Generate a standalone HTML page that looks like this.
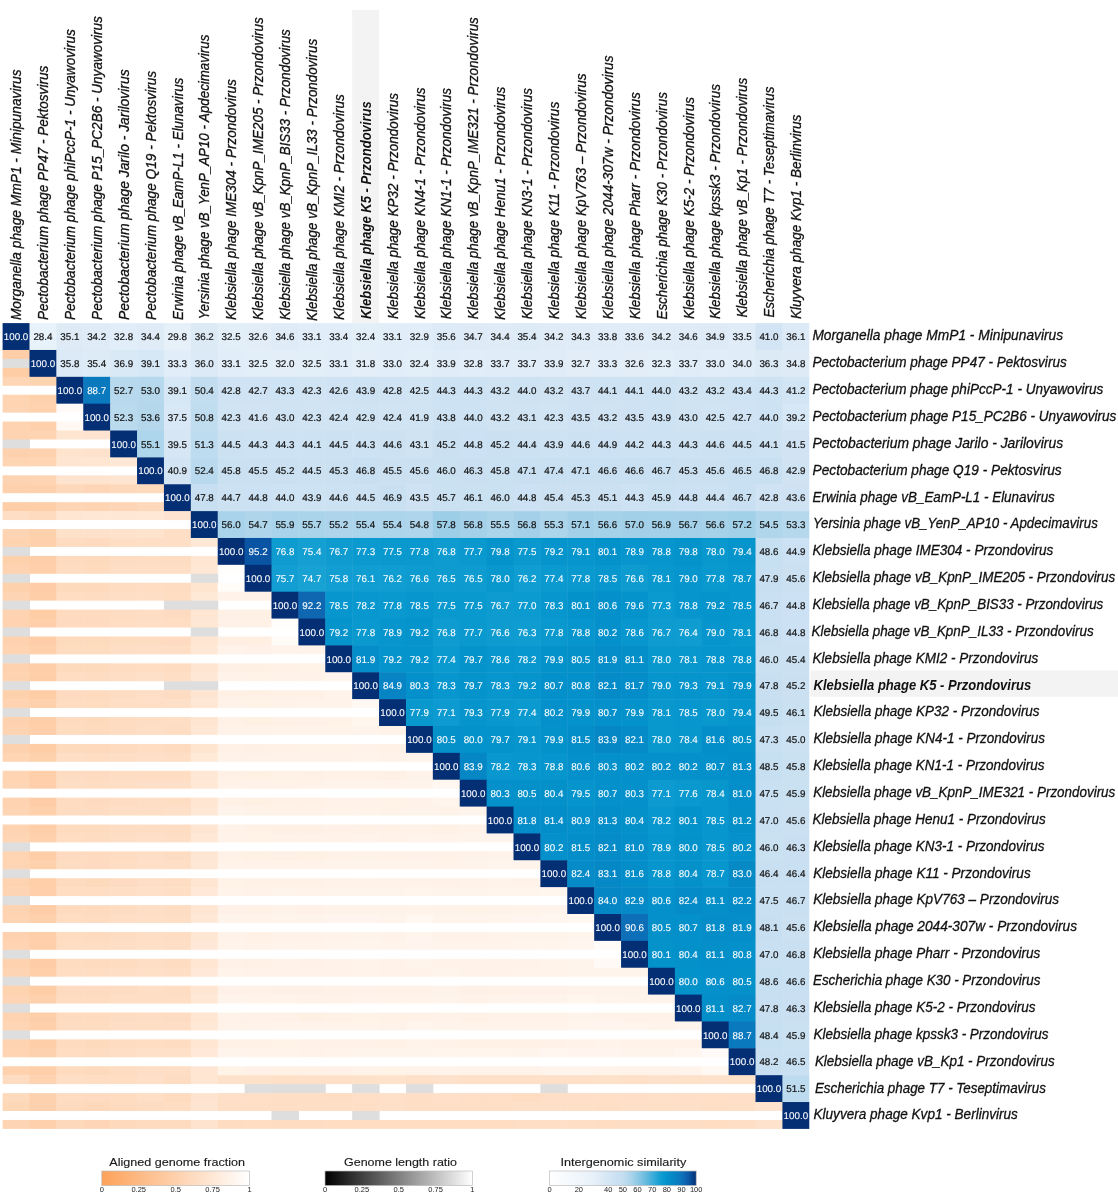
<!DOCTYPE html>
<html><head><meta charset="utf-8"><title>VIRIDIC heatmap</title>
<style>html,body{margin:0;padding:0;background:#fff}body{width:1118px;height:1203px;overflow:hidden}svg{display:block;font-family:"Liberation Sans",sans-serif}.v{font-size:9.8px;text-rendering:geometricPrecision;text-anchor:middle;fill:#141414;stroke:#141414;stroke-width:0.22px}.w{fill:#fff;stroke:#fff;stroke-width:0.1px}.l{font-size:14.2px;font-style:italic;fill:#111;stroke:#111;stroke-width:0.3px}.b{font-weight:bold;stroke-width:0}.t{font-size:11.8px;text-anchor:middle;fill:#1a1a1a;stroke:#1a1a1a;stroke-width:0.15px}.k{font-size:7.5px;text-anchor:middle;fill:#222}</style></head><body>
<svg width="1118" height="1203" viewBox="0 0 1118 1203">
<rect width="1118" height="1203" fill="#fff"/>
<rect x="352.2" y="10" width="26.9" height="313" fill="#f3f3f3"/>
<rect x="810.4" y="670.4" width="308" height="26.4" fill="#f3f3f3"/>
<g>
<rect x="2.6" y="323.1" width="27.39" height="27.36" fill="#042f74"/>
<rect x="29.49" y="323.1" width="27.39" height="27.36" fill="#e8f2fa"/>
<rect x="56.38" y="323.1" width="27.39" height="27.36" fill="#deebf7"/>
<rect x="83.27" y="323.1" width="27.39" height="27.36" fill="#dfecf7"/>
<rect x="110.16" y="323.1" width="27.39" height="27.36" fill="#e1edf8"/>
<rect x="137.05" y="323.1" width="27.39" height="27.36" fill="#dfecf7"/>
<rect x="163.94" y="323.1" width="27.39" height="27.36" fill="#e6f0f9"/>
<rect x="190.83" y="323.1" width="27.39" height="27.36" fill="#dceaf6"/>
<rect x="217.72" y="323.1" width="27.39" height="27.36" fill="#e2eef8"/>
<rect x="244.61" y="323.1" width="27.39" height="27.36" fill="#e2edf8"/>
<rect x="271.5" y="323.1" width="27.39" height="27.36" fill="#dfebf7"/>
<rect x="298.39" y="323.1" width="27.39" height="27.36" fill="#e1edf8"/>
<rect x="325.28" y="323.1" width="27.39" height="27.36" fill="#e1edf8"/>
<rect x="352.17" y="323.1" width="27.39" height="27.36" fill="#e2eef8"/>
<rect x="379.06" y="323.1" width="27.39" height="27.36" fill="#e1edf8"/>
<rect x="405.95" y="323.1" width="27.39" height="27.36" fill="#e1edf8"/>
<rect x="432.84" y="323.1" width="27.39" height="27.36" fill="#ddeaf7"/>
<rect x="459.73" y="323.1" width="27.39" height="27.36" fill="#deebf7"/>
<rect x="486.62" y="323.1" width="27.39" height="27.36" fill="#dfecf7"/>
<rect x="513.51" y="323.1" width="27.39" height="27.36" fill="#ddebf7"/>
<rect x="540.4" y="323.1" width="27.39" height="27.36" fill="#dfecf7"/>
<rect x="567.29" y="323.1" width="27.39" height="27.36" fill="#dfecf7"/>
<rect x="594.18" y="323.1" width="27.39" height="27.36" fill="#e0ecf8"/>
<rect x="621.07" y="323.1" width="27.39" height="27.36" fill="#e0ecf8"/>
<rect x="647.96" y="323.1" width="27.39" height="27.36" fill="#dfecf7"/>
<rect x="674.85" y="323.1" width="27.39" height="27.36" fill="#dfebf7"/>
<rect x="701.74" y="323.1" width="27.39" height="27.36" fill="#deebf7"/>
<rect x="728.63" y="323.1" width="27.39" height="27.36" fill="#e0ecf8"/>
<rect x="755.52" y="323.1" width="27.39" height="27.36" fill="#d3e5f4"/>
<rect x="782.41" y="323.1" width="26.89" height="27.36" fill="#dceaf7"/>
<rect x="2.6" y="349.96" width="27.39" height="9.45" fill="#fecea8"/>
<rect x="2.6" y="358.91" width="27.39" height="9.45" fill="#dedede"/>
<rect x="2.6" y="367.87" width="27.39" height="9.45" fill="#fecca5"/>
<rect x="29.49" y="349.96" width="27.39" height="27.36" fill="#042f74"/>
<rect x="56.38" y="349.96" width="27.39" height="27.36" fill="#dceaf7"/>
<rect x="83.27" y="349.96" width="27.39" height="27.36" fill="#ddebf7"/>
<rect x="110.16" y="349.96" width="27.39" height="27.36" fill="#dae9f6"/>
<rect x="137.05" y="349.96" width="27.39" height="27.36" fill="#d6e7f5"/>
<rect x="163.94" y="349.96" width="27.39" height="27.36" fill="#e1edf8"/>
<rect x="190.83" y="349.96" width="27.39" height="27.36" fill="#dceaf7"/>
<rect x="217.72" y="349.96" width="27.39" height="27.36" fill="#e1edf8"/>
<rect x="244.61" y="349.96" width="27.39" height="27.36" fill="#e2eef8"/>
<rect x="271.5" y="349.96" width="27.39" height="27.36" fill="#e3eef8"/>
<rect x="298.39" y="349.96" width="27.39" height="27.36" fill="#e2eef8"/>
<rect x="325.28" y="349.96" width="27.39" height="27.36" fill="#e1edf8"/>
<rect x="352.17" y="349.96" width="27.39" height="27.36" fill="#e3eef8"/>
<rect x="379.06" y="349.96" width="27.39" height="27.36" fill="#e1edf8"/>
<rect x="405.95" y="349.96" width="27.39" height="27.36" fill="#e2eef8"/>
<rect x="432.84" y="349.96" width="27.39" height="27.36" fill="#e0ecf7"/>
<rect x="459.73" y="349.96" width="27.39" height="27.36" fill="#e1edf8"/>
<rect x="486.62" y="349.96" width="27.39" height="27.36" fill="#e0ecf8"/>
<rect x="513.51" y="349.96" width="27.39" height="27.36" fill="#e0ecf8"/>
<rect x="540.4" y="349.96" width="27.39" height="27.36" fill="#e0ecf7"/>
<rect x="567.29" y="349.96" width="27.39" height="27.36" fill="#e2edf8"/>
<rect x="594.18" y="349.96" width="27.39" height="27.36" fill="#e1edf8"/>
<rect x="621.07" y="349.96" width="27.39" height="27.36" fill="#e2edf8"/>
<rect x="647.96" y="349.96" width="27.39" height="27.36" fill="#e2eef8"/>
<rect x="674.85" y="349.96" width="27.39" height="27.36" fill="#e0ecf8"/>
<rect x="701.74" y="349.96" width="27.39" height="27.36" fill="#e1edf8"/>
<rect x="728.63" y="349.96" width="27.39" height="27.36" fill="#e0ecf7"/>
<rect x="755.52" y="349.96" width="27.39" height="27.36" fill="#dceaf6"/>
<rect x="782.41" y="349.96" width="26.89" height="27.36" fill="#deebf7"/>
<rect x="2.6" y="376.82" width="27.39" height="8.95" fill="#fed6b5"/>
<rect x="2.6" y="394.73" width="27.39" height="9.45" fill="#fed4b2"/>
<rect x="29.49" y="376.82" width="27.39" height="8.95" fill="#fed3b0"/>
<rect x="29.49" y="394.73" width="27.39" height="9.45" fill="#fed1ad"/>
<rect x="56.38" y="376.82" width="27.39" height="27.36" fill="#042f74"/>
<rect x="83.27" y="376.82" width="27.39" height="27.36" fill="#0a79be"/>
<rect x="110.16" y="376.82" width="27.39" height="27.36" fill="#b8d9ed"/>
<rect x="137.05" y="376.82" width="27.39" height="27.36" fill="#b6d8ed"/>
<rect x="163.94" y="376.82" width="27.39" height="27.36" fill="#d6e7f5"/>
<rect x="190.83" y="376.82" width="27.39" height="27.36" fill="#c2ddf0"/>
<rect x="217.72" y="376.82" width="27.39" height="27.36" fill="#cfe3f4"/>
<rect x="244.61" y="376.82" width="27.39" height="27.36" fill="#cfe3f4"/>
<rect x="271.5" y="376.82" width="27.39" height="27.36" fill="#cee3f3"/>
<rect x="298.39" y="376.82" width="27.39" height="27.36" fill="#d0e4f4"/>
<rect x="325.28" y="376.82" width="27.39" height="27.36" fill="#d0e3f4"/>
<rect x="352.17" y="376.82" width="27.39" height="27.36" fill="#cde2f3"/>
<rect x="379.06" y="376.82" width="27.39" height="27.36" fill="#cfe3f4"/>
<rect x="405.95" y="376.82" width="27.39" height="27.36" fill="#d0e4f4"/>
<rect x="432.84" y="376.82" width="27.39" height="27.36" fill="#cde2f3"/>
<rect x="459.73" y="376.82" width="27.39" height="27.36" fill="#cde2f3"/>
<rect x="486.62" y="376.82" width="27.39" height="27.36" fill="#cfe3f3"/>
<rect x="513.51" y="376.82" width="27.39" height="27.36" fill="#cde2f3"/>
<rect x="540.4" y="376.82" width="27.39" height="27.36" fill="#cfe3f3"/>
<rect x="567.29" y="376.82" width="27.39" height="27.36" fill="#cee2f3"/>
<rect x="594.18" y="376.82" width="27.39" height="27.36" fill="#cde2f3"/>
<rect x="621.07" y="376.82" width="27.39" height="27.36" fill="#cde2f3"/>
<rect x="647.96" y="376.82" width="27.39" height="27.36" fill="#cde2f3"/>
<rect x="674.85" y="376.82" width="27.39" height="27.36" fill="#cfe3f3"/>
<rect x="701.74" y="376.82" width="27.39" height="27.36" fill="#cfe3f3"/>
<rect x="728.63" y="376.82" width="27.39" height="27.36" fill="#cee3f3"/>
<rect x="755.52" y="376.82" width="27.39" height="27.36" fill="#cde2f3"/>
<rect x="782.41" y="376.82" width="26.89" height="27.36" fill="#d2e5f4"/>
<rect x="2.6" y="403.68" width="27.39" height="8.95" fill="#fed5b4"/>
<rect x="2.6" y="421.59" width="27.39" height="9.45" fill="#fed3b0"/>
<rect x="29.49" y="403.68" width="27.39" height="8.95" fill="#fed2af"/>
<rect x="29.49" y="421.59" width="27.39" height="9.45" fill="#fed0ac"/>
<rect x="56.38" y="403.68" width="27.39" height="8.95" fill="#fffaf7"/>
<rect x="56.38" y="421.59" width="27.39" height="9.45" fill="#fff8f3"/>
<rect x="83.27" y="403.68" width="27.39" height="27.36" fill="#042f74"/>
<rect x="110.16" y="403.68" width="27.39" height="27.36" fill="#badaee"/>
<rect x="137.05" y="403.68" width="27.39" height="27.36" fill="#b4d7ec"/>
<rect x="163.94" y="403.68" width="27.39" height="27.36" fill="#d9e8f6"/>
<rect x="190.83" y="403.68" width="27.39" height="27.36" fill="#c0ddef"/>
<rect x="217.72" y="403.68" width="27.39" height="27.36" fill="#d0e4f4"/>
<rect x="244.61" y="403.68" width="27.39" height="27.36" fill="#d2e4f4"/>
<rect x="271.5" y="403.68" width="27.39" height="27.36" fill="#cfe3f3"/>
<rect x="298.39" y="403.68" width="27.39" height="27.36" fill="#d0e4f4"/>
<rect x="325.28" y="403.68" width="27.39" height="27.36" fill="#d0e4f4"/>
<rect x="352.17" y="403.68" width="27.39" height="27.36" fill="#cfe3f3"/>
<rect x="379.06" y="403.68" width="27.39" height="27.36" fill="#d0e4f4"/>
<rect x="405.95" y="403.68" width="27.39" height="27.36" fill="#d1e4f4"/>
<rect x="432.84" y="403.68" width="27.39" height="27.36" fill="#cde2f3"/>
<rect x="459.73" y="403.68" width="27.39" height="27.36" fill="#cde2f3"/>
<rect x="486.62" y="403.68" width="27.39" height="27.36" fill="#cfe3f3"/>
<rect x="513.51" y="403.68" width="27.39" height="27.36" fill="#cfe3f3"/>
<rect x="540.4" y="403.68" width="27.39" height="27.36" fill="#d0e4f4"/>
<rect x="567.29" y="403.68" width="27.39" height="27.36" fill="#cee2f3"/>
<rect x="594.18" y="403.68" width="27.39" height="27.36" fill="#cfe3f3"/>
<rect x="621.07" y="403.68" width="27.39" height="27.36" fill="#cee2f3"/>
<rect x="647.96" y="403.68" width="27.39" height="27.36" fill="#cde2f3"/>
<rect x="674.85" y="403.68" width="27.39" height="27.36" fill="#cfe3f3"/>
<rect x="701.74" y="403.68" width="27.39" height="27.36" fill="#d0e4f4"/>
<rect x="728.63" y="403.68" width="27.39" height="27.36" fill="#cfe3f4"/>
<rect x="755.52" y="403.68" width="27.39" height="27.36" fill="#cde2f3"/>
<rect x="782.41" y="403.68" width="26.89" height="27.36" fill="#d6e7f5"/>
<rect x="2.6" y="430.54" width="27.39" height="9.45" fill="#fed3b1"/>
<rect x="2.6" y="439.49" width="27.39" height="9.45" fill="#dedede"/>
<rect x="2.6" y="448.45" width="27.39" height="9.45" fill="#fed1ae"/>
<rect x="29.49" y="430.54" width="27.39" height="8.95" fill="#fed4b2"/>
<rect x="29.49" y="448.45" width="27.39" height="9.45" fill="#fed2af"/>
<rect x="56.38" y="430.54" width="27.39" height="8.95" fill="#fee5d0"/>
<rect x="56.38" y="448.45" width="27.39" height="9.45" fill="#fee3cd"/>
<rect x="83.27" y="430.54" width="27.39" height="8.95" fill="#fee4d0"/>
<rect x="83.27" y="448.45" width="27.39" height="9.45" fill="#fee2cc"/>
<rect x="110.16" y="430.54" width="27.39" height="27.36" fill="#042f74"/>
<rect x="137.05" y="430.54" width="27.39" height="27.36" fill="#add5eb"/>
<rect x="163.94" y="430.54" width="27.39" height="27.36" fill="#d6e6f5"/>
<rect x="190.83" y="430.54" width="27.39" height="27.36" fill="#bedcef"/>
<rect x="217.72" y="430.54" width="27.39" height="27.36" fill="#cce2f3"/>
<rect x="244.61" y="430.54" width="27.39" height="27.36" fill="#cde2f3"/>
<rect x="271.5" y="430.54" width="27.39" height="27.36" fill="#cde2f3"/>
<rect x="298.39" y="430.54" width="27.39" height="27.36" fill="#cde2f3"/>
<rect x="325.28" y="430.54" width="27.39" height="27.36" fill="#cce2f3"/>
<rect x="352.17" y="430.54" width="27.39" height="27.36" fill="#cde2f3"/>
<rect x="379.06" y="430.54" width="27.39" height="27.36" fill="#cce2f3"/>
<rect x="405.95" y="430.54" width="27.39" height="27.36" fill="#cfe3f3"/>
<rect x="432.84" y="430.54" width="27.39" height="27.36" fill="#cbe1f2"/>
<rect x="459.73" y="430.54" width="27.39" height="27.36" fill="#cce1f3"/>
<rect x="486.62" y="430.54" width="27.39" height="27.36" fill="#cbe1f2"/>
<rect x="513.51" y="430.54" width="27.39" height="27.36" fill="#cce2f3"/>
<rect x="540.4" y="430.54" width="27.39" height="27.36" fill="#cde2f3"/>
<rect x="567.29" y="430.54" width="27.39" height="27.36" fill="#cce2f3"/>
<rect x="594.18" y="430.54" width="27.39" height="27.36" fill="#cce1f3"/>
<rect x="621.07" y="430.54" width="27.39" height="27.36" fill="#cde2f3"/>
<rect x="647.96" y="430.54" width="27.39" height="27.36" fill="#cde2f3"/>
<rect x="674.85" y="430.54" width="27.39" height="27.36" fill="#cde2f3"/>
<rect x="701.74" y="430.54" width="27.39" height="27.36" fill="#cce2f3"/>
<rect x="728.63" y="430.54" width="27.39" height="27.36" fill="#cce2f3"/>
<rect x="755.52" y="430.54" width="27.39" height="27.36" fill="#cde2f3"/>
<rect x="782.41" y="430.54" width="26.89" height="27.36" fill="#d2e4f4"/>
<rect x="2.6" y="457.4" width="27.39" height="8.95" fill="#fed5b4"/>
<rect x="2.6" y="475.31" width="27.39" height="9.45" fill="#fed3b1"/>
<rect x="29.49" y="457.4" width="27.39" height="8.95" fill="#fed6b6"/>
<rect x="29.49" y="475.31" width="27.39" height="9.45" fill="#fed4b3"/>
<rect x="56.38" y="457.4" width="27.39" height="8.95" fill="#fee5d1"/>
<rect x="56.38" y="475.31" width="27.39" height="9.45" fill="#fee3ce"/>
<rect x="83.27" y="457.4" width="27.39" height="8.95" fill="#fee6d2"/>
<rect x="83.27" y="475.31" width="27.39" height="9.45" fill="#fee4ce"/>
<rect x="110.16" y="457.4" width="27.39" height="8.95" fill="#fee7d4"/>
<rect x="110.16" y="475.31" width="27.39" height="9.45" fill="#fee5d1"/>
<rect x="137.05" y="457.4" width="27.39" height="27.36" fill="#042f74"/>
<rect x="163.94" y="457.4" width="27.39" height="27.36" fill="#d3e5f4"/>
<rect x="190.83" y="457.4" width="27.39" height="27.36" fill="#b9daee"/>
<rect x="217.72" y="457.4" width="27.39" height="27.36" fill="#cae1f2"/>
<rect x="244.61" y="457.4" width="27.39" height="27.36" fill="#cbe1f2"/>
<rect x="271.5" y="457.4" width="27.39" height="27.36" fill="#cbe1f2"/>
<rect x="298.39" y="457.4" width="27.39" height="27.36" fill="#cce2f3"/>
<rect x="325.28" y="457.4" width="27.39" height="27.36" fill="#cbe1f2"/>
<rect x="352.17" y="457.4" width="27.39" height="27.36" fill="#c9e0f2"/>
<rect x="379.06" y="457.4" width="27.39" height="27.36" fill="#cbe1f2"/>
<rect x="405.95" y="457.4" width="27.39" height="27.36" fill="#cbe1f2"/>
<rect x="432.84" y="457.4" width="27.39" height="27.36" fill="#cae1f2"/>
<rect x="459.73" y="457.4" width="27.39" height="27.36" fill="#cae0f2"/>
<rect x="486.62" y="457.4" width="27.39" height="27.36" fill="#cae1f2"/>
<rect x="513.51" y="457.4" width="27.39" height="27.36" fill="#c8e0f1"/>
<rect x="540.4" y="457.4" width="27.39" height="27.36" fill="#c8e0f1"/>
<rect x="567.29" y="457.4" width="27.39" height="27.36" fill="#c8e0f1"/>
<rect x="594.18" y="457.4" width="27.39" height="27.36" fill="#c9e0f2"/>
<rect x="621.07" y="457.4" width="27.39" height="27.36" fill="#c9e0f2"/>
<rect x="647.96" y="457.4" width="27.39" height="27.36" fill="#c9e0f2"/>
<rect x="674.85" y="457.4" width="27.39" height="27.36" fill="#cbe1f2"/>
<rect x="701.74" y="457.4" width="27.39" height="27.36" fill="#cbe1f2"/>
<rect x="728.63" y="457.4" width="27.39" height="27.36" fill="#c9e0f2"/>
<rect x="755.52" y="457.4" width="27.39" height="27.36" fill="#c9e0f2"/>
<rect x="782.41" y="457.4" width="26.89" height="27.36" fill="#cfe3f3"/>
<rect x="2.6" y="484.26" width="27.39" height="8.95" fill="#fed0ab"/>
<rect x="2.6" y="502.17" width="27.39" height="9.45" fill="#fecea8"/>
<rect x="29.49" y="484.26" width="27.39" height="8.95" fill="#fed0ab"/>
<rect x="29.49" y="502.17" width="27.39" height="9.45" fill="#fecea8"/>
<rect x="56.38" y="484.26" width="27.39" height="8.95" fill="#fed8ba"/>
<rect x="56.38" y="502.17" width="27.39" height="9.45" fill="#fed6b6"/>
<rect x="83.27" y="484.26" width="27.39" height="8.95" fill="#fed6b7"/>
<rect x="83.27" y="502.17" width="27.39" height="9.45" fill="#fed4b3"/>
<rect x="110.16" y="484.26" width="27.39" height="8.95" fill="#fed8ba"/>
<rect x="110.16" y="502.17" width="27.39" height="9.45" fill="#fed6b7"/>
<rect x="137.05" y="484.26" width="27.39" height="8.95" fill="#fedabd"/>
<rect x="137.05" y="502.17" width="27.39" height="9.45" fill="#fed8ba"/>
<rect x="163.94" y="484.26" width="27.39" height="27.36" fill="#042f74"/>
<rect x="190.83" y="484.26" width="27.39" height="27.36" fill="#c7dff1"/>
<rect x="217.72" y="484.26" width="27.39" height="27.36" fill="#cce2f3"/>
<rect x="244.61" y="484.26" width="27.39" height="27.36" fill="#cce1f3"/>
<rect x="271.5" y="484.26" width="27.39" height="27.36" fill="#cde2f3"/>
<rect x="298.39" y="484.26" width="27.39" height="27.36" fill="#cde2f3"/>
<rect x="325.28" y="484.26" width="27.39" height="27.36" fill="#cce2f3"/>
<rect x="352.17" y="484.26" width="27.39" height="27.36" fill="#cce2f3"/>
<rect x="379.06" y="484.26" width="27.39" height="27.36" fill="#c9e0f2"/>
<rect x="405.95" y="484.26" width="27.39" height="27.36" fill="#cee2f3"/>
<rect x="432.84" y="484.26" width="27.39" height="27.36" fill="#cae1f2"/>
<rect x="459.73" y="484.26" width="27.39" height="27.36" fill="#cae1f2"/>
<rect x="486.62" y="484.26" width="27.39" height="27.36" fill="#cae1f2"/>
<rect x="513.51" y="484.26" width="27.39" height="27.36" fill="#cce1f3"/>
<rect x="540.4" y="484.26" width="27.39" height="27.36" fill="#cbe1f2"/>
<rect x="567.29" y="484.26" width="27.39" height="27.36" fill="#cbe1f2"/>
<rect x="594.18" y="484.26" width="27.39" height="27.36" fill="#cbe1f2"/>
<rect x="621.07" y="484.26" width="27.39" height="27.36" fill="#cde2f3"/>
<rect x="647.96" y="484.26" width="27.39" height="27.36" fill="#cae1f2"/>
<rect x="674.85" y="484.26" width="27.39" height="27.36" fill="#cce1f3"/>
<rect x="701.74" y="484.26" width="27.39" height="27.36" fill="#cce2f3"/>
<rect x="728.63" y="484.26" width="27.39" height="27.36" fill="#c9e0f2"/>
<rect x="755.52" y="484.26" width="27.39" height="27.36" fill="#cfe3f4"/>
<rect x="782.41" y="484.26" width="26.89" height="27.36" fill="#cee2f3"/>
<rect x="2.6" y="511.12" width="27.39" height="8.95" fill="#fedfc6"/>
<rect x="2.6" y="529.03" width="27.39" height="9.45" fill="#fed5b4"/>
<rect x="29.49" y="511.12" width="27.39" height="8.95" fill="#fedbbf"/>
<rect x="29.49" y="529.03" width="27.39" height="9.45" fill="#fed1ad"/>
<rect x="56.38" y="511.12" width="27.39" height="8.95" fill="#fee6d3"/>
<rect x="56.38" y="529.03" width="27.39" height="9.45" fill="#fee1c9"/>
<rect x="83.27" y="511.12" width="27.39" height="8.95" fill="#fee7d4"/>
<rect x="83.27" y="529.03" width="27.39" height="9.45" fill="#fee1ca"/>
<rect x="110.16" y="511.12" width="27.39" height="8.95" fill="#fee7d5"/>
<rect x="110.16" y="529.03" width="27.39" height="9.45" fill="#fee2cb"/>
<rect x="137.05" y="511.12" width="27.39" height="8.95" fill="#ffe8d6"/>
<rect x="137.05" y="529.03" width="27.39" height="9.45" fill="#fee3cd"/>
<rect x="163.94" y="511.12" width="27.39" height="8.95" fill="#fee4d0"/>
<rect x="163.94" y="529.03" width="27.39" height="9.45" fill="#fedfc6"/>
<rect x="190.83" y="511.12" width="27.39" height="27.36" fill="#042f74"/>
<rect x="217.72" y="511.12" width="27.39" height="27.36" fill="#a9d3ea"/>
<rect x="244.61" y="511.12" width="27.39" height="27.36" fill="#afd5eb"/>
<rect x="271.5" y="511.12" width="27.39" height="27.36" fill="#a9d3ea"/>
<rect x="298.39" y="511.12" width="27.39" height="27.36" fill="#aad4ea"/>
<rect x="325.28" y="511.12" width="27.39" height="27.36" fill="#add4eb"/>
<rect x="352.17" y="511.12" width="27.39" height="27.36" fill="#acd4eb"/>
<rect x="379.06" y="511.12" width="27.39" height="27.36" fill="#acd4eb"/>
<rect x="405.95" y="511.12" width="27.39" height="27.36" fill="#aed5eb"/>
<rect x="432.84" y="511.12" width="27.39" height="27.36" fill="#9dcee8"/>
<rect x="459.73" y="511.12" width="27.39" height="27.36" fill="#a4d1e9"/>
<rect x="486.62" y="511.12" width="27.39" height="27.36" fill="#abd4ea"/>
<rect x="513.51" y="511.12" width="27.39" height="27.36" fill="#a4d1e9"/>
<rect x="540.4" y="511.12" width="27.39" height="27.36" fill="#acd4eb"/>
<rect x="567.29" y="511.12" width="27.39" height="27.36" fill="#a2d0e9"/>
<rect x="594.18" y="511.12" width="27.39" height="27.36" fill="#a5d1e9"/>
<rect x="621.07" y="511.12" width="27.39" height="27.36" fill="#a2d0e9"/>
<rect x="647.96" y="511.12" width="27.39" height="27.36" fill="#a3d1e9"/>
<rect x="674.85" y="511.12" width="27.39" height="27.36" fill="#a4d1e9"/>
<rect x="701.74" y="511.12" width="27.39" height="27.36" fill="#a5d1e9"/>
<rect x="728.63" y="511.12" width="27.39" height="27.36" fill="#a1d0e9"/>
<rect x="755.52" y="511.12" width="27.39" height="27.36" fill="#b0d6ec"/>
<rect x="782.41" y="511.12" width="26.89" height="27.36" fill="#b5d8ed"/>
<rect x="2.6" y="537.98" width="27.39" height="9.45" fill="#fed3b0"/>
<rect x="2.6" y="546.93" width="27.39" height="9.45" fill="#dedede"/>
<rect x="2.6" y="555.89" width="27.39" height="9.45" fill="#fed1ad"/>
<rect x="29.49" y="537.98" width="27.39" height="8.95" fill="#fed0ab"/>
<rect x="29.49" y="555.89" width="27.39" height="9.45" fill="#fecea8"/>
<rect x="56.38" y="537.98" width="27.39" height="8.95" fill="#fedcc1"/>
<rect x="56.38" y="555.89" width="27.39" height="9.45" fill="#fedabe"/>
<rect x="83.27" y="537.98" width="27.39" height="8.95" fill="#fedbc0"/>
<rect x="83.27" y="555.89" width="27.39" height="9.45" fill="#fedabd"/>
<rect x="110.16" y="537.98" width="27.39" height="8.95" fill="#fedec4"/>
<rect x="110.16" y="555.89" width="27.39" height="9.45" fill="#fedcc1"/>
<rect x="137.05" y="537.98" width="27.39" height="8.95" fill="#fedfc6"/>
<rect x="137.05" y="555.89" width="27.39" height="9.45" fill="#feddc3"/>
<rect x="163.94" y="537.98" width="27.39" height="8.95" fill="#fedec5"/>
<rect x="163.94" y="555.89" width="27.39" height="9.45" fill="#fedcc1"/>
<rect x="190.83" y="537.98" width="27.39" height="8.95" fill="#fee8d6"/>
<rect x="190.83" y="555.89" width="27.39" height="9.45" fill="#fee6d2"/>
<rect x="217.72" y="537.98" width="27.39" height="27.36" fill="#042f74"/>
<rect x="244.61" y="537.98" width="27.39" height="27.36" fill="#0a55a3"/>
<rect x="271.5" y="537.98" width="27.39" height="27.36" fill="#0d9bd0"/>
<rect x="298.39" y="537.98" width="27.39" height="27.36" fill="#139fd2"/>
<rect x="325.28" y="537.98" width="27.39" height="27.36" fill="#0e9bd0"/>
<rect x="352.17" y="537.98" width="27.39" height="27.36" fill="#0b9acf"/>
<rect x="379.06" y="537.98" width="27.39" height="27.36" fill="#0a99cf"/>
<rect x="405.95" y="537.98" width="27.39" height="27.36" fill="#0999ce"/>
<rect x="432.84" y="537.98" width="27.39" height="27.36" fill="#0d9bd0"/>
<rect x="459.73" y="537.98" width="27.39" height="27.36" fill="#0999ce"/>
<rect x="486.62" y="537.98" width="27.39" height="27.36" fill="#0493cb"/>
<rect x="513.51" y="537.98" width="27.39" height="27.36" fill="#0a99cf"/>
<rect x="540.4" y="537.98" width="27.39" height="27.36" fill="#0694cc"/>
<rect x="567.29" y="537.98" width="27.39" height="27.36" fill="#0695cc"/>
<rect x="594.18" y="537.98" width="27.39" height="27.36" fill="#0492cb"/>
<rect x="621.07" y="537.98" width="27.39" height="27.36" fill="#0695cd"/>
<rect x="647.96" y="537.98" width="27.39" height="27.36" fill="#0696cd"/>
<rect x="674.85" y="537.98" width="27.39" height="27.36" fill="#0493cb"/>
<rect x="701.74" y="537.98" width="27.39" height="27.36" fill="#0898ce"/>
<rect x="728.63" y="537.98" width="27.39" height="27.36" fill="#0594cc"/>
<rect x="755.52" y="537.98" width="27.39" height="27.36" fill="#c6dff1"/>
<rect x="782.41" y="537.98" width="26.89" height="27.36" fill="#cce1f3"/>
<rect x="2.6" y="564.84" width="27.39" height="9.45" fill="#fed3b1"/>
<rect x="2.6" y="573.79" width="27.39" height="9.45" fill="#dedede"/>
<rect x="2.6" y="582.75" width="27.39" height="9.45" fill="#fed1ad"/>
<rect x="29.49" y="564.84" width="27.39" height="8.95" fill="#fecfaa"/>
<rect x="29.49" y="582.75" width="27.39" height="9.45" fill="#fecda7"/>
<rect x="56.38" y="564.84" width="27.39" height="8.95" fill="#fedcc1"/>
<rect x="56.38" y="582.75" width="27.39" height="9.45" fill="#fedabd"/>
<rect x="83.27" y="564.84" width="27.39" height="8.95" fill="#fedbbf"/>
<rect x="83.27" y="582.75" width="27.39" height="9.45" fill="#fed9bb"/>
<rect x="110.16" y="564.84" width="27.39" height="8.95" fill="#fedec4"/>
<rect x="110.16" y="582.75" width="27.39" height="9.45" fill="#fedcc1"/>
<rect x="137.05" y="564.84" width="27.39" height="8.95" fill="#fedfc6"/>
<rect x="137.05" y="582.75" width="27.39" height="9.45" fill="#feddc3"/>
<rect x="163.94" y="564.84" width="27.39" height="8.95" fill="#fedec5"/>
<rect x="163.94" y="582.75" width="27.39" height="9.45" fill="#fedcc2"/>
<rect x="190.83" y="564.84" width="27.39" height="9.45" fill="#fee7d4"/>
<rect x="190.83" y="573.79" width="27.39" height="9.45" fill="#dedede"/>
<rect x="190.83" y="582.75" width="27.39" height="9.45" fill="#fee5d0"/>
<rect x="217.72" y="564.84" width="27.39" height="8.95" fill="#fffefd"/>
<rect x="217.72" y="582.75" width="27.39" height="9.45" fill="#fffcfa"/>
<rect x="244.61" y="564.84" width="27.39" height="27.36" fill="#042f74"/>
<rect x="271.5" y="564.84" width="27.39" height="27.36" fill="#129ed2"/>
<rect x="298.39" y="564.84" width="27.39" height="27.36" fill="#18a1d3"/>
<rect x="325.28" y="564.84" width="27.39" height="27.36" fill="#129ed2"/>
<rect x="352.17" y="564.84" width="27.39" height="27.36" fill="#109dd1"/>
<rect x="379.06" y="564.84" width="27.39" height="27.36" fill="#109dd1"/>
<rect x="405.95" y="564.84" width="27.39" height="27.36" fill="#0e9cd0"/>
<rect x="432.84" y="564.84" width="27.39" height="27.36" fill="#0e9cd0"/>
<rect x="459.73" y="564.84" width="27.39" height="27.36" fill="#0e9cd0"/>
<rect x="486.62" y="564.84" width="27.39" height="27.36" fill="#0898ce"/>
<rect x="513.51" y="564.84" width="27.39" height="27.36" fill="#109dd1"/>
<rect x="540.4" y="564.84" width="27.39" height="27.36" fill="#0b9acf"/>
<rect x="567.29" y="564.84" width="27.39" height="27.36" fill="#0999ce"/>
<rect x="594.18" y="564.84" width="27.39" height="27.36" fill="#0796cd"/>
<rect x="621.07" y="564.84" width="27.39" height="27.36" fill="#0e9cd0"/>
<rect x="647.96" y="564.84" width="27.39" height="27.36" fill="#0898ce"/>
<rect x="674.85" y="564.84" width="27.39" height="27.36" fill="#0695cc"/>
<rect x="701.74" y="564.84" width="27.39" height="27.36" fill="#0999ce"/>
<rect x="728.63" y="564.84" width="27.39" height="27.36" fill="#0796cd"/>
<rect x="755.52" y="564.84" width="27.39" height="27.36" fill="#c7dff1"/>
<rect x="782.41" y="564.84" width="26.89" height="27.36" fill="#cbe1f2"/>
<rect x="2.6" y="591.7" width="27.39" height="9.45" fill="#fed5b4"/>
<rect x="2.6" y="600.65" width="27.39" height="9.45" fill="#dedede"/>
<rect x="2.6" y="609.61" width="27.39" height="9.45" fill="#fed3b1"/>
<rect x="29.49" y="591.7" width="27.39" height="8.95" fill="#fecea9"/>
<rect x="29.49" y="609.61" width="27.39" height="9.45" fill="#fecda6"/>
<rect x="56.38" y="591.7" width="27.39" height="8.95" fill="#feddc2"/>
<rect x="56.38" y="609.61" width="27.39" height="9.45" fill="#fedbbf"/>
<rect x="83.27" y="591.7" width="27.39" height="8.95" fill="#fedcc1"/>
<rect x="83.27" y="609.61" width="27.39" height="9.45" fill="#fedabe"/>
<rect x="110.16" y="591.7" width="27.39" height="8.95" fill="#fedec4"/>
<rect x="110.16" y="609.61" width="27.39" height="9.45" fill="#fedcc1"/>
<rect x="137.05" y="591.7" width="27.39" height="8.95" fill="#fedfc6"/>
<rect x="137.05" y="609.61" width="27.39" height="9.45" fill="#feddc2"/>
<rect x="163.94" y="591.7" width="27.39" height="9.45" fill="#feddc3"/>
<rect x="163.94" y="600.65" width="27.39" height="9.45" fill="#dedede"/>
<rect x="163.94" y="609.61" width="27.39" height="9.45" fill="#fedbc0"/>
<rect x="190.83" y="591.7" width="27.39" height="9.45" fill="#fee8d6"/>
<rect x="190.83" y="600.65" width="27.39" height="9.45" fill="#dedede"/>
<rect x="190.83" y="609.61" width="27.39" height="9.45" fill="#fee6d2"/>
<rect x="217.72" y="591.7" width="27.39" height="8.95" fill="#fff2e8"/>
<rect x="217.72" y="609.61" width="27.39" height="9.45" fill="#fff0e5"/>
<rect x="244.61" y="591.7" width="27.39" height="8.95" fill="#fff1e7"/>
<rect x="244.61" y="609.61" width="27.39" height="9.45" fill="#fff0e4"/>
<rect x="271.5" y="591.7" width="27.39" height="27.36" fill="#042f74"/>
<rect x="298.39" y="591.7" width="27.39" height="27.36" fill="#0f67b1"/>
<rect x="325.28" y="591.7" width="27.39" height="27.36" fill="#0796cd"/>
<rect x="352.17" y="591.7" width="27.39" height="27.36" fill="#0897ce"/>
<rect x="379.06" y="591.7" width="27.39" height="27.36" fill="#0999ce"/>
<rect x="405.95" y="591.7" width="27.39" height="27.36" fill="#0796cd"/>
<rect x="432.84" y="591.7" width="27.39" height="27.36" fill="#0a99cf"/>
<rect x="459.73" y="591.7" width="27.39" height="27.36" fill="#0a99cf"/>
<rect x="486.62" y="591.7" width="27.39" height="27.36" fill="#0e9bd0"/>
<rect x="513.51" y="591.7" width="27.39" height="27.36" fill="#0c9bd0"/>
<rect x="540.4" y="591.7" width="27.39" height="27.36" fill="#0797ce"/>
<rect x="567.29" y="591.7" width="27.39" height="27.36" fill="#0492cb"/>
<rect x="594.18" y="591.7" width="27.39" height="27.36" fill="#0490ca"/>
<rect x="621.07" y="591.7" width="27.39" height="27.36" fill="#0593cc"/>
<rect x="647.96" y="591.7" width="27.39" height="27.36" fill="#0b9acf"/>
<rect x="674.85" y="591.7" width="27.39" height="27.36" fill="#0696cd"/>
<rect x="701.74" y="591.7" width="27.39" height="27.36" fill="#0694cc"/>
<rect x="728.63" y="591.7" width="27.39" height="27.36" fill="#0796cd"/>
<rect x="755.52" y="591.7" width="27.39" height="27.36" fill="#c9e0f2"/>
<rect x="782.41" y="591.7" width="26.89" height="27.36" fill="#cce1f3"/>
<rect x="2.6" y="618.56" width="27.39" height="9.45" fill="#fed3b2"/>
<rect x="2.6" y="627.51" width="27.39" height="9.45" fill="#dedede"/>
<rect x="2.6" y="636.47" width="27.39" height="9.45" fill="#fed2ae"/>
<rect x="29.49" y="618.56" width="27.39" height="8.95" fill="#fecfaa"/>
<rect x="29.49" y="636.47" width="27.39" height="9.45" fill="#fecda7"/>
<rect x="56.38" y="618.56" width="27.39" height="8.95" fill="#fedbc0"/>
<rect x="56.38" y="636.47" width="27.39" height="9.45" fill="#fedabd"/>
<rect x="83.27" y="618.56" width="27.39" height="8.95" fill="#fedbc0"/>
<rect x="83.27" y="636.47" width="27.39" height="9.45" fill="#fedabd"/>
<rect x="110.16" y="618.56" width="27.39" height="8.95" fill="#feddc3"/>
<rect x="110.16" y="636.47" width="27.39" height="9.45" fill="#fedcc0"/>
<rect x="137.05" y="618.56" width="27.39" height="8.95" fill="#fedec4"/>
<rect x="137.05" y="636.47" width="27.39" height="9.45" fill="#fedcc1"/>
<rect x="163.94" y="618.56" width="27.39" height="8.95" fill="#feddc3"/>
<rect x="163.94" y="636.47" width="27.39" height="9.45" fill="#fedbc0"/>
<rect x="190.83" y="618.56" width="27.39" height="9.45" fill="#fee7d5"/>
<rect x="190.83" y="627.51" width="27.39" height="9.45" fill="#dedede"/>
<rect x="190.83" y="636.47" width="27.39" height="9.45" fill="#fee6d2"/>
<rect x="217.72" y="618.56" width="27.39" height="8.95" fill="#fff1e7"/>
<rect x="217.72" y="636.47" width="27.39" height="9.45" fill="#ffefe3"/>
<rect x="244.61" y="618.56" width="27.39" height="8.95" fill="#fff1e6"/>
<rect x="244.61" y="636.47" width="27.39" height="9.45" fill="#ffefe3"/>
<rect x="271.5" y="618.56" width="27.39" height="8.95" fill="#fffdfb"/>
<rect x="271.5" y="636.47" width="27.39" height="9.45" fill="#fffbf7"/>
<rect x="298.39" y="618.56" width="27.39" height="27.36" fill="#042f74"/>
<rect x="325.28" y="618.56" width="27.39" height="27.36" fill="#0694cc"/>
<rect x="352.17" y="618.56" width="27.39" height="27.36" fill="#0999ce"/>
<rect x="379.06" y="618.56" width="27.39" height="27.36" fill="#0695cd"/>
<rect x="405.95" y="618.56" width="27.39" height="27.36" fill="#0694cc"/>
<rect x="432.84" y="618.56" width="27.39" height="27.36" fill="#0d9bd0"/>
<rect x="459.73" y="618.56" width="27.39" height="27.36" fill="#0999ce"/>
<rect x="486.62" y="618.56" width="27.39" height="27.36" fill="#0e9cd0"/>
<rect x="513.51" y="618.56" width="27.39" height="27.36" fill="#0f9dd1"/>
<rect x="540.4" y="618.56" width="27.39" height="27.36" fill="#0999ce"/>
<rect x="567.29" y="618.56" width="27.39" height="27.36" fill="#0696cd"/>
<rect x="594.18" y="618.56" width="27.39" height="27.36" fill="#0491cb"/>
<rect x="621.07" y="618.56" width="27.39" height="27.36" fill="#0796cd"/>
<rect x="647.96" y="618.56" width="27.39" height="27.36" fill="#0e9bd0"/>
<rect x="674.85" y="618.56" width="27.39" height="27.36" fill="#0f9cd1"/>
<rect x="701.74" y="618.56" width="27.39" height="27.36" fill="#0695cc"/>
<rect x="728.63" y="618.56" width="27.39" height="27.36" fill="#0898ce"/>
<rect x="755.52" y="618.56" width="27.39" height="27.36" fill="#c9e0f2"/>
<rect x="782.41" y="618.56" width="26.89" height="27.36" fill="#cce1f3"/>
<rect x="2.6" y="645.42" width="27.39" height="9.45" fill="#fed4b2"/>
<rect x="2.6" y="654.37" width="27.39" height="9.45" fill="#dedede"/>
<rect x="2.6" y="663.33" width="27.39" height="9.45" fill="#fed2af"/>
<rect x="29.49" y="645.42" width="27.39" height="8.95" fill="#fed0ab"/>
<rect x="29.49" y="663.33" width="27.39" height="9.45" fill="#fecea8"/>
<rect x="56.38" y="645.42" width="27.39" height="8.95" fill="#fedcc0"/>
<rect x="56.38" y="663.33" width="27.39" height="9.45" fill="#fedabd"/>
<rect x="83.27" y="645.42" width="27.39" height="8.95" fill="#fedcc0"/>
<rect x="83.27" y="663.33" width="27.39" height="9.45" fill="#fedabd"/>
<rect x="110.16" y="645.42" width="27.39" height="8.95" fill="#fedec4"/>
<rect x="110.16" y="663.33" width="27.39" height="9.45" fill="#fedcc1"/>
<rect x="137.05" y="645.42" width="27.39" height="8.95" fill="#fedfc6"/>
<rect x="137.05" y="663.33" width="27.39" height="9.45" fill="#feddc2"/>
<rect x="163.94" y="645.42" width="27.39" height="8.95" fill="#fedec4"/>
<rect x="163.94" y="663.33" width="27.39" height="9.45" fill="#fedcc1"/>
<rect x="190.83" y="645.42" width="27.39" height="8.95" fill="#fee7d4"/>
<rect x="190.83" y="663.33" width="27.39" height="9.45" fill="#fee5d1"/>
<rect x="217.72" y="645.42" width="27.39" height="8.95" fill="#fff2e8"/>
<rect x="217.72" y="663.33" width="27.39" height="9.45" fill="#fff0e5"/>
<rect x="244.61" y="645.42" width="27.39" height="8.95" fill="#fff1e7"/>
<rect x="244.61" y="663.33" width="27.39" height="9.45" fill="#fff0e4"/>
<rect x="271.5" y="645.42" width="27.39" height="8.95" fill="#fff3ea"/>
<rect x="271.5" y="663.33" width="27.39" height="9.45" fill="#fff1e6"/>
<rect x="298.39" y="645.42" width="27.39" height="8.95" fill="#fff3ea"/>
<rect x="298.39" y="663.33" width="27.39" height="9.45" fill="#fff2e7"/>
<rect x="325.28" y="645.42" width="27.39" height="27.36" fill="#042f74"/>
<rect x="352.17" y="645.42" width="27.39" height="27.36" fill="#048dc8"/>
<rect x="379.06" y="645.42" width="27.39" height="27.36" fill="#0694cc"/>
<rect x="405.95" y="645.42" width="27.39" height="27.36" fill="#0694cc"/>
<rect x="432.84" y="645.42" width="27.39" height="27.36" fill="#0b9acf"/>
<rect x="459.73" y="645.42" width="27.39" height="27.36" fill="#0593cb"/>
<rect x="486.62" y="645.42" width="27.39" height="27.36" fill="#0796cd"/>
<rect x="513.51" y="645.42" width="27.39" height="27.36" fill="#0897ce"/>
<rect x="540.4" y="645.42" width="27.39" height="27.36" fill="#0492cb"/>
<rect x="567.29" y="645.42" width="27.39" height="27.36" fill="#0491ca"/>
<rect x="594.18" y="645.42" width="27.39" height="27.36" fill="#048dc8"/>
<rect x="621.07" y="645.42" width="27.39" height="27.36" fill="#048fc9"/>
<rect x="647.96" y="645.42" width="27.39" height="27.36" fill="#0898ce"/>
<rect x="674.85" y="645.42" width="27.39" height="27.36" fill="#0898ce"/>
<rect x="701.74" y="645.42" width="27.39" height="27.36" fill="#0696cd"/>
<rect x="728.63" y="645.42" width="27.39" height="27.36" fill="#0696cd"/>
<rect x="755.52" y="645.42" width="27.39" height="27.36" fill="#cae1f2"/>
<rect x="782.41" y="645.42" width="26.89" height="27.36" fill="#cbe1f2"/>
<rect x="2.6" y="672.28" width="27.39" height="9.45" fill="#fed3b0"/>
<rect x="2.6" y="681.23" width="27.39" height="9.45" fill="#dedede"/>
<rect x="2.6" y="690.19" width="27.39" height="9.45" fill="#fed1ad"/>
<rect x="29.49" y="672.28" width="27.39" height="8.95" fill="#fecea8"/>
<rect x="29.49" y="690.19" width="27.39" height="9.45" fill="#fecca5"/>
<rect x="56.38" y="672.28" width="27.39" height="8.95" fill="#feddc3"/>
<rect x="56.38" y="690.19" width="27.39" height="9.45" fill="#fedbc0"/>
<rect x="83.27" y="672.28" width="27.39" height="8.95" fill="#fedcc1"/>
<rect x="83.27" y="690.19" width="27.39" height="9.45" fill="#fedabe"/>
<rect x="110.16" y="672.28" width="27.39" height="8.95" fill="#fedec4"/>
<rect x="110.16" y="690.19" width="27.39" height="9.45" fill="#fedcc1"/>
<rect x="137.05" y="672.28" width="27.39" height="8.95" fill="#fee0c8"/>
<rect x="137.05" y="690.19" width="27.39" height="9.45" fill="#fedec4"/>
<rect x="163.94" y="672.28" width="27.39" height="9.45" fill="#fedec4"/>
<rect x="163.94" y="681.23" width="27.39" height="9.45" fill="#dedede"/>
<rect x="163.94" y="690.19" width="27.39" height="9.45" fill="#fedcc1"/>
<rect x="190.83" y="672.28" width="27.39" height="9.45" fill="#fee7d5"/>
<rect x="190.83" y="681.23" width="27.39" height="9.45" fill="#dedede"/>
<rect x="190.83" y="690.19" width="27.39" height="9.45" fill="#fee5d1"/>
<rect x="217.72" y="672.28" width="27.39" height="8.95" fill="#fff2e9"/>
<rect x="217.72" y="690.19" width="27.39" height="9.45" fill="#fff0e5"/>
<rect x="244.61" y="672.28" width="27.39" height="8.95" fill="#fff2e7"/>
<rect x="244.61" y="690.19" width="27.39" height="9.45" fill="#fff0e4"/>
<rect x="271.5" y="672.28" width="27.39" height="8.95" fill="#fff3e9"/>
<rect x="271.5" y="690.19" width="27.39" height="9.45" fill="#fff1e6"/>
<rect x="298.39" y="672.28" width="27.39" height="8.95" fill="#fff3e9"/>
<rect x="298.39" y="690.19" width="27.39" height="9.45" fill="#fff1e6"/>
<rect x="325.28" y="672.28" width="27.39" height="8.95" fill="#fff5ee"/>
<rect x="325.28" y="690.19" width="27.39" height="9.45" fill="#fff3ea"/>
<rect x="352.17" y="672.28" width="27.39" height="27.36" fill="#042f74"/>
<rect x="379.06" y="672.28" width="27.39" height="27.36" fill="#0684c4"/>
<rect x="405.95" y="672.28" width="27.39" height="27.36" fill="#0491cb"/>
<rect x="432.84" y="672.28" width="27.39" height="27.36" fill="#0797ce"/>
<rect x="459.73" y="672.28" width="27.39" height="27.36" fill="#0593cb"/>
<rect x="486.62" y="672.28" width="27.39" height="27.36" fill="#0797ce"/>
<rect x="513.51" y="672.28" width="27.39" height="27.36" fill="#0694cc"/>
<rect x="540.4" y="672.28" width="27.39" height="27.36" fill="#0490ca"/>
<rect x="567.29" y="672.28" width="27.39" height="27.36" fill="#0490ca"/>
<rect x="594.18" y="672.28" width="27.39" height="27.36" fill="#058cc8"/>
<rect x="621.07" y="672.28" width="27.39" height="27.36" fill="#048dc8"/>
<rect x="647.96" y="672.28" width="27.39" height="27.36" fill="#0695cc"/>
<rect x="674.85" y="672.28" width="27.39" height="27.36" fill="#0594cc"/>
<rect x="701.74" y="672.28" width="27.39" height="27.36" fill="#0695cc"/>
<rect x="728.63" y="672.28" width="27.39" height="27.36" fill="#0492cb"/>
<rect x="755.52" y="672.28" width="27.39" height="27.36" fill="#c7dff1"/>
<rect x="782.41" y="672.28" width="26.89" height="27.36" fill="#cbe1f2"/>
<rect x="2.6" y="699.14" width="27.39" height="9.45" fill="#fed3b2"/>
<rect x="2.6" y="708.09" width="27.39" height="9.45" fill="#dedede"/>
<rect x="2.6" y="717.05" width="27.39" height="9.45" fill="#fed2ae"/>
<rect x="29.49" y="699.14" width="27.39" height="8.95" fill="#fed0ab"/>
<rect x="29.49" y="717.05" width="27.39" height="9.45" fill="#fecea8"/>
<rect x="56.38" y="699.14" width="27.39" height="8.95" fill="#fedcc1"/>
<rect x="56.38" y="717.05" width="27.39" height="9.45" fill="#fedabe"/>
<rect x="83.27" y="699.14" width="27.39" height="8.95" fill="#fedcc0"/>
<rect x="83.27" y="717.05" width="27.39" height="9.45" fill="#fedabd"/>
<rect x="110.16" y="699.14" width="27.39" height="8.95" fill="#fedec4"/>
<rect x="110.16" y="717.05" width="27.39" height="9.45" fill="#fedcc1"/>
<rect x="137.05" y="699.14" width="27.39" height="8.95" fill="#fedfc6"/>
<rect x="137.05" y="717.05" width="27.39" height="9.45" fill="#feddc3"/>
<rect x="163.94" y="699.14" width="27.39" height="8.95" fill="#fee0c8"/>
<rect x="163.94" y="717.05" width="27.39" height="9.45" fill="#fedec4"/>
<rect x="190.83" y="699.14" width="27.39" height="8.95" fill="#fee7d5"/>
<rect x="190.83" y="717.05" width="27.39" height="9.45" fill="#fee5d1"/>
<rect x="217.72" y="699.14" width="27.39" height="8.95" fill="#fff2e9"/>
<rect x="217.72" y="717.05" width="27.39" height="9.45" fill="#fff1e5"/>
<rect x="244.61" y="699.14" width="27.39" height="8.95" fill="#fff2e7"/>
<rect x="244.61" y="717.05" width="27.39" height="9.45" fill="#fff0e4"/>
<rect x="271.5" y="699.14" width="27.39" height="8.95" fill="#fff3e9"/>
<rect x="271.5" y="717.05" width="27.39" height="9.45" fill="#fff1e6"/>
<rect x="298.39" y="699.14" width="27.39" height="8.95" fill="#fff3ea"/>
<rect x="298.39" y="717.05" width="27.39" height="9.45" fill="#fff1e7"/>
<rect x="325.28" y="699.14" width="27.39" height="8.95" fill="#fff3ea"/>
<rect x="325.28" y="717.05" width="27.39" height="9.45" fill="#fff2e7"/>
<rect x="352.17" y="699.14" width="27.39" height="8.95" fill="#fff7f2"/>
<rect x="352.17" y="717.05" width="27.39" height="9.45" fill="#fff6ee"/>
<rect x="379.06" y="699.14" width="27.39" height="27.36" fill="#042f74"/>
<rect x="405.95" y="699.14" width="27.39" height="27.36" fill="#0898ce"/>
<rect x="432.84" y="699.14" width="27.39" height="27.36" fill="#0c9ad0"/>
<rect x="459.73" y="699.14" width="27.39" height="27.36" fill="#0594cc"/>
<rect x="486.62" y="699.14" width="27.39" height="27.36" fill="#0898ce"/>
<rect x="513.51" y="699.14" width="27.39" height="27.36" fill="#0b9acf"/>
<rect x="540.4" y="699.14" width="27.39" height="27.36" fill="#0491cb"/>
<rect x="567.29" y="699.14" width="27.39" height="27.36" fill="#0492cb"/>
<rect x="594.18" y="699.14" width="27.39" height="27.36" fill="#0490ca"/>
<rect x="621.07" y="699.14" width="27.39" height="27.36" fill="#0492cb"/>
<rect x="647.96" y="699.14" width="27.39" height="27.36" fill="#0898ce"/>
<rect x="674.85" y="699.14" width="27.39" height="27.36" fill="#0796cd"/>
<rect x="701.74" y="699.14" width="27.39" height="27.36" fill="#0898ce"/>
<rect x="728.63" y="699.14" width="27.39" height="27.36" fill="#0594cc"/>
<rect x="755.52" y="699.14" width="27.39" height="27.36" fill="#c5def0"/>
<rect x="782.41" y="699.14" width="26.89" height="27.36" fill="#cae1f2"/>
<rect x="2.6" y="726" width="27.39" height="9.45" fill="#fed3b1"/>
<rect x="2.6" y="734.95" width="27.39" height="9.45" fill="#dedede"/>
<rect x="2.6" y="743.91" width="27.39" height="9.45" fill="#fed1ae"/>
<rect x="29.49" y="726" width="27.39" height="8.95" fill="#fecfaa"/>
<rect x="29.49" y="743.91" width="27.39" height="9.45" fill="#fecda6"/>
<rect x="56.38" y="726" width="27.39" height="8.95" fill="#fedcc0"/>
<rect x="56.38" y="743.91" width="27.39" height="9.45" fill="#fedabd"/>
<rect x="83.27" y="726" width="27.39" height="8.95" fill="#fedbbf"/>
<rect x="83.27" y="743.91" width="27.39" height="9.45" fill="#fed9bc"/>
<rect x="110.16" y="726" width="27.39" height="8.95" fill="#fedcc1"/>
<rect x="110.16" y="743.91" width="27.39" height="9.45" fill="#fedabe"/>
<rect x="137.05" y="726" width="27.39" height="8.95" fill="#fedfc6"/>
<rect x="137.05" y="743.91" width="27.39" height="9.45" fill="#feddc3"/>
<rect x="163.94" y="726" width="27.39" height="8.95" fill="#feddc2"/>
<rect x="163.94" y="743.91" width="27.39" height="9.45" fill="#fedbbf"/>
<rect x="190.83" y="726" width="27.39" height="8.95" fill="#fee7d4"/>
<rect x="190.83" y="743.91" width="27.39" height="9.45" fill="#fee5d0"/>
<rect x="217.72" y="726" width="27.39" height="8.95" fill="#fff3e9"/>
<rect x="217.72" y="743.91" width="27.39" height="9.45" fill="#fff1e6"/>
<rect x="244.61" y="726" width="27.39" height="8.95" fill="#fff2e8"/>
<rect x="244.61" y="743.91" width="27.39" height="9.45" fill="#fff0e5"/>
<rect x="271.5" y="726" width="27.39" height="8.95" fill="#fff3ea"/>
<rect x="271.5" y="743.91" width="27.39" height="9.45" fill="#fff1e6"/>
<rect x="298.39" y="726" width="27.39" height="8.95" fill="#fff3ea"/>
<rect x="298.39" y="743.91" width="27.39" height="9.45" fill="#fff2e7"/>
<rect x="325.28" y="726" width="27.39" height="8.95" fill="#fff3ea"/>
<rect x="325.28" y="743.91" width="27.39" height="9.45" fill="#fff2e7"/>
<rect x="352.17" y="726" width="27.39" height="8.95" fill="#fff4ec"/>
<rect x="352.17" y="743.91" width="27.39" height="9.45" fill="#fff2e8"/>
<rect x="379.06" y="726" width="27.39" height="8.95" fill="#fff3e9"/>
<rect x="379.06" y="743.91" width="27.39" height="9.45" fill="#fff1e6"/>
<rect x="405.95" y="726" width="27.39" height="27.36" fill="#042f74"/>
<rect x="432.84" y="726" width="27.39" height="27.36" fill="#0491ca"/>
<rect x="459.73" y="726" width="27.39" height="27.36" fill="#0492cb"/>
<rect x="486.62" y="726" width="27.39" height="27.36" fill="#0593cb"/>
<rect x="513.51" y="726" width="27.39" height="27.36" fill="#0695cc"/>
<rect x="540.4" y="726" width="27.39" height="27.36" fill="#0492cb"/>
<rect x="567.29" y="726" width="27.39" height="27.36" fill="#048ec9"/>
<rect x="594.18" y="726" width="27.39" height="27.36" fill="#0587c5"/>
<rect x="621.07" y="726" width="27.39" height="27.36" fill="#058cc8"/>
<rect x="647.96" y="726" width="27.39" height="27.36" fill="#0898ce"/>
<rect x="674.85" y="726" width="27.39" height="27.36" fill="#0797cd"/>
<rect x="701.74" y="726" width="27.39" height="27.36" fill="#048ec9"/>
<rect x="728.63" y="726" width="27.39" height="27.36" fill="#0491ca"/>
<rect x="755.52" y="726" width="27.39" height="27.36" fill="#c8e0f1"/>
<rect x="782.41" y="726" width="26.89" height="27.36" fill="#cce1f2"/>
<rect x="2.6" y="752.86" width="27.39" height="8.95" fill="#fed6b6"/>
<rect x="2.6" y="770.77" width="27.39" height="9.45" fill="#fed4b3"/>
<rect x="29.49" y="752.86" width="27.39" height="8.95" fill="#fed1ad"/>
<rect x="29.49" y="770.77" width="27.39" height="9.45" fill="#fecfa9"/>
<rect x="56.38" y="752.86" width="27.39" height="8.95" fill="#fedec4"/>
<rect x="56.38" y="770.77" width="27.39" height="9.45" fill="#fedcc1"/>
<rect x="83.27" y="752.86" width="27.39" height="8.95" fill="#feddc3"/>
<rect x="83.27" y="770.77" width="27.39" height="9.45" fill="#fedbc0"/>
<rect x="110.16" y="752.86" width="27.39" height="8.95" fill="#fedfc6"/>
<rect x="110.16" y="770.77" width="27.39" height="9.45" fill="#feddc2"/>
<rect x="137.05" y="752.86" width="27.39" height="8.95" fill="#fedfc7"/>
<rect x="137.05" y="770.77" width="27.39" height="9.45" fill="#feddc3"/>
<rect x="163.94" y="752.86" width="27.39" height="8.95" fill="#fedfc6"/>
<rect x="163.94" y="770.77" width="27.39" height="9.45" fill="#feddc3"/>
<rect x="190.83" y="752.86" width="27.39" height="8.95" fill="#ffe9d7"/>
<rect x="190.83" y="770.77" width="27.39" height="9.45" fill="#fee7d4"/>
<rect x="217.72" y="752.86" width="27.39" height="8.95" fill="#fff2e8"/>
<rect x="217.72" y="770.77" width="27.39" height="9.45" fill="#fff0e5"/>
<rect x="244.61" y="752.86" width="27.39" height="8.95" fill="#fff2e8"/>
<rect x="244.61" y="770.77" width="27.39" height="9.45" fill="#fff0e4"/>
<rect x="271.5" y="752.86" width="27.39" height="8.95" fill="#fff2e9"/>
<rect x="271.5" y="770.77" width="27.39" height="9.45" fill="#fff1e5"/>
<rect x="298.39" y="752.86" width="27.39" height="8.95" fill="#fff2e8"/>
<rect x="298.39" y="770.77" width="27.39" height="9.45" fill="#fff0e5"/>
<rect x="325.28" y="752.86" width="27.39" height="8.95" fill="#fff2e9"/>
<rect x="325.28" y="770.77" width="27.39" height="9.45" fill="#fff1e5"/>
<rect x="352.17" y="752.86" width="27.39" height="8.95" fill="#fff3ea"/>
<rect x="352.17" y="770.77" width="27.39" height="9.45" fill="#fff1e6"/>
<rect x="379.06" y="752.86" width="27.39" height="8.95" fill="#fff2e8"/>
<rect x="379.06" y="770.77" width="27.39" height="9.45" fill="#fff0e5"/>
<rect x="405.95" y="752.86" width="27.39" height="8.95" fill="#fff4ec"/>
<rect x="405.95" y="770.77" width="27.39" height="9.45" fill="#fff2e9"/>
<rect x="432.84" y="752.86" width="27.39" height="27.36" fill="#042f74"/>
<rect x="459.73" y="752.86" width="27.39" height="27.36" fill="#0587c5"/>
<rect x="486.62" y="752.86" width="27.39" height="27.36" fill="#0897ce"/>
<rect x="513.51" y="752.86" width="27.39" height="27.36" fill="#0797ce"/>
<rect x="540.4" y="752.86" width="27.39" height="27.36" fill="#0696cd"/>
<rect x="567.29" y="752.86" width="27.39" height="27.36" fill="#0490ca"/>
<rect x="594.18" y="752.86" width="27.39" height="27.36" fill="#0491cb"/>
<rect x="621.07" y="752.86" width="27.39" height="27.36" fill="#0491cb"/>
<rect x="647.96" y="752.86" width="27.39" height="27.36" fill="#0491cb"/>
<rect x="674.85" y="752.86" width="27.39" height="27.36" fill="#0491cb"/>
<rect x="701.74" y="752.86" width="27.39" height="27.36" fill="#0490ca"/>
<rect x="728.63" y="752.86" width="27.39" height="27.36" fill="#048ec9"/>
<rect x="755.52" y="752.86" width="27.39" height="27.36" fill="#c6dff1"/>
<rect x="782.41" y="752.86" width="26.89" height="27.36" fill="#cae1f2"/>
<rect x="2.6" y="779.72" width="27.39" height="8.95" fill="#fed5b5"/>
<rect x="2.6" y="797.63" width="27.39" height="9.45" fill="#fed3b1"/>
<rect x="29.49" y="779.72" width="27.39" height="8.95" fill="#fecfaa"/>
<rect x="29.49" y="797.63" width="27.39" height="9.45" fill="#fecda7"/>
<rect x="56.38" y="779.72" width="27.39" height="8.95" fill="#fedec4"/>
<rect x="56.38" y="797.63" width="27.39" height="9.45" fill="#fedcc1"/>
<rect x="83.27" y="779.72" width="27.39" height="8.95" fill="#feddc3"/>
<rect x="83.27" y="797.63" width="27.39" height="9.45" fill="#fedbc0"/>
<rect x="110.16" y="779.72" width="27.39" height="8.95" fill="#fedec5"/>
<rect x="110.16" y="797.63" width="27.39" height="9.45" fill="#fedcc2"/>
<rect x="137.05" y="779.72" width="27.39" height="8.95" fill="#fedfc7"/>
<rect x="137.05" y="797.63" width="27.39" height="9.45" fill="#fedec4"/>
<rect x="163.94" y="779.72" width="27.39" height="8.95" fill="#fedfc7"/>
<rect x="163.94" y="797.63" width="27.39" height="9.45" fill="#feddc3"/>
<rect x="190.83" y="779.72" width="27.39" height="8.95" fill="#ffe8d6"/>
<rect x="190.83" y="797.63" width="27.39" height="9.45" fill="#fee6d3"/>
<rect x="217.72" y="779.72" width="27.39" height="8.95" fill="#fff3e9"/>
<rect x="217.72" y="797.63" width="27.39" height="9.45" fill="#fff1e6"/>
<rect x="244.61" y="779.72" width="27.39" height="8.95" fill="#fff2e8"/>
<rect x="244.61" y="797.63" width="27.39" height="9.45" fill="#fff0e4"/>
<rect x="271.5" y="779.72" width="27.39" height="8.95" fill="#fff2e9"/>
<rect x="271.5" y="797.63" width="27.39" height="9.45" fill="#fff1e5"/>
<rect x="298.39" y="779.72" width="27.39" height="8.95" fill="#fff3e9"/>
<rect x="298.39" y="797.63" width="27.39" height="9.45" fill="#fff1e6"/>
<rect x="325.28" y="779.72" width="27.39" height="8.95" fill="#fff4eb"/>
<rect x="325.28" y="797.63" width="27.39" height="9.45" fill="#fff2e8"/>
<rect x="352.17" y="779.72" width="27.39" height="8.95" fill="#fff4eb"/>
<rect x="352.17" y="797.63" width="27.39" height="9.45" fill="#fff2e8"/>
<rect x="379.06" y="779.72" width="27.39" height="8.95" fill="#fff3eb"/>
<rect x="379.06" y="797.63" width="27.39" height="9.45" fill="#fff2e7"/>
<rect x="405.95" y="779.72" width="27.39" height="8.95" fill="#fff4eb"/>
<rect x="405.95" y="797.63" width="27.39" height="9.45" fill="#fff2e8"/>
<rect x="432.84" y="779.72" width="27.39" height="8.95" fill="#fff7f0"/>
<rect x="432.84" y="797.63" width="27.39" height="9.45" fill="#fff5ed"/>
<rect x="459.73" y="779.72" width="27.39" height="27.36" fill="#042f74"/>
<rect x="486.62" y="779.72" width="27.39" height="27.36" fill="#0491cb"/>
<rect x="513.51" y="779.72" width="27.39" height="27.36" fill="#0491ca"/>
<rect x="540.4" y="779.72" width="27.39" height="27.36" fill="#0491ca"/>
<rect x="567.29" y="779.72" width="27.39" height="27.36" fill="#0594cc"/>
<rect x="594.18" y="779.72" width="27.39" height="27.36" fill="#0490ca"/>
<rect x="621.07" y="779.72" width="27.39" height="27.36" fill="#0491cb"/>
<rect x="647.96" y="779.72" width="27.39" height="27.36" fill="#0c9ad0"/>
<rect x="674.85" y="779.72" width="27.39" height="27.36" fill="#0a99cf"/>
<rect x="701.74" y="779.72" width="27.39" height="27.36" fill="#0797cd"/>
<rect x="728.63" y="779.72" width="27.39" height="27.36" fill="#048fca"/>
<rect x="755.52" y="779.72" width="27.39" height="27.36" fill="#c8e0f1"/>
<rect x="782.41" y="779.72" width="26.89" height="27.36" fill="#cae1f2"/>
<rect x="2.6" y="806.58" width="27.39" height="8.95" fill="#fed5b4"/>
<rect x="2.6" y="824.49" width="27.39" height="9.45" fill="#fed3b1"/>
<rect x="29.49" y="806.58" width="27.39" height="8.95" fill="#fed0ac"/>
<rect x="29.49" y="824.49" width="27.39" height="9.45" fill="#fecea9"/>
<rect x="56.38" y="806.58" width="27.39" height="8.95" fill="#fedcc2"/>
<rect x="56.38" y="824.49" width="27.39" height="9.45" fill="#fedbbe"/>
<rect x="83.27" y="806.58" width="27.39" height="8.95" fill="#fedcc2"/>
<rect x="83.27" y="824.49" width="27.39" height="9.45" fill="#fedbbe"/>
<rect x="110.16" y="806.58" width="27.39" height="8.95" fill="#fedfc6"/>
<rect x="110.16" y="824.49" width="27.39" height="9.45" fill="#feddc2"/>
<rect x="137.05" y="806.58" width="27.39" height="8.95" fill="#fedfc6"/>
<rect x="137.05" y="824.49" width="27.39" height="9.45" fill="#feddc3"/>
<rect x="163.94" y="806.58" width="27.39" height="8.95" fill="#fedfc7"/>
<rect x="163.94" y="824.49" width="27.39" height="9.45" fill="#feddc3"/>
<rect x="190.83" y="806.58" width="27.39" height="8.95" fill="#fee7d5"/>
<rect x="190.83" y="824.49" width="27.39" height="9.45" fill="#fee5d2"/>
<rect x="217.72" y="806.58" width="27.39" height="8.95" fill="#fff4eb"/>
<rect x="217.72" y="824.49" width="27.39" height="9.45" fill="#fff2e8"/>
<rect x="244.61" y="806.58" width="27.39" height="8.95" fill="#fff3e9"/>
<rect x="244.61" y="824.49" width="27.39" height="9.45" fill="#fff1e6"/>
<rect x="271.5" y="806.58" width="27.39" height="8.95" fill="#fff2e8"/>
<rect x="271.5" y="824.49" width="27.39" height="9.45" fill="#fff0e5"/>
<rect x="298.39" y="806.58" width="27.39" height="8.95" fill="#fff2e8"/>
<rect x="298.39" y="824.49" width="27.39" height="9.45" fill="#fff0e5"/>
<rect x="325.28" y="806.58" width="27.39" height="8.95" fill="#fff3ea"/>
<rect x="325.28" y="824.49" width="27.39" height="9.45" fill="#fff1e7"/>
<rect x="352.17" y="806.58" width="27.39" height="8.95" fill="#fff3ea"/>
<rect x="352.17" y="824.49" width="27.39" height="9.45" fill="#fff1e6"/>
<rect x="379.06" y="806.58" width="27.39" height="8.95" fill="#fff3e9"/>
<rect x="379.06" y="824.49" width="27.39" height="9.45" fill="#fff1e6"/>
<rect x="405.95" y="806.58" width="27.39" height="8.95" fill="#fff4eb"/>
<rect x="405.95" y="824.49" width="27.39" height="9.45" fill="#fff2e8"/>
<rect x="432.84" y="806.58" width="27.39" height="8.95" fill="#fff3e9"/>
<rect x="432.84" y="824.49" width="27.39" height="9.45" fill="#fff1e6"/>
<rect x="459.73" y="806.58" width="27.39" height="8.95" fill="#fff4ec"/>
<rect x="459.73" y="824.49" width="27.39" height="9.45" fill="#fff2e8"/>
<rect x="486.62" y="806.58" width="27.39" height="27.36" fill="#042f74"/>
<rect x="513.51" y="806.58" width="27.39" height="27.36" fill="#048dc8"/>
<rect x="540.4" y="806.58" width="27.39" height="27.36" fill="#048ec9"/>
<rect x="567.29" y="806.58" width="27.39" height="27.36" fill="#0490ca"/>
<rect x="594.18" y="806.58" width="27.39" height="27.36" fill="#048ec9"/>
<rect x="621.07" y="806.58" width="27.39" height="27.36" fill="#0491ca"/>
<rect x="647.96" y="806.58" width="27.39" height="27.36" fill="#0897ce"/>
<rect x="674.85" y="806.58" width="27.39" height="27.36" fill="#0492cb"/>
<rect x="701.74" y="806.58" width="27.39" height="27.36" fill="#0796cd"/>
<rect x="728.63" y="806.58" width="27.39" height="27.36" fill="#048fc9"/>
<rect x="755.52" y="806.58" width="27.39" height="27.36" fill="#c8e0f2"/>
<rect x="782.41" y="806.58" width="26.89" height="27.36" fill="#cbe1f2"/>
<rect x="2.6" y="833.44" width="27.39" height="9.45" fill="#fed6b6"/>
<rect x="2.6" y="842.39" width="27.39" height="9.45" fill="#dedede"/>
<rect x="2.6" y="851.35" width="27.39" height="9.45" fill="#fed4b3"/>
<rect x="29.49" y="833.44" width="27.39" height="8.95" fill="#fed0ac"/>
<rect x="29.49" y="851.35" width="27.39" height="9.45" fill="#fecea9"/>
<rect x="56.38" y="833.44" width="27.39" height="8.95" fill="#feddc3"/>
<rect x="56.38" y="851.35" width="27.39" height="9.45" fill="#fedbc0"/>
<rect x="83.27" y="833.44" width="27.39" height="8.95" fill="#fedcc1"/>
<rect x="83.27" y="851.35" width="27.39" height="9.45" fill="#fedabe"/>
<rect x="110.16" y="833.44" width="27.39" height="8.95" fill="#fedec4"/>
<rect x="110.16" y="851.35" width="27.39" height="9.45" fill="#fedcc1"/>
<rect x="137.05" y="833.44" width="27.39" height="8.95" fill="#fee0c8"/>
<rect x="137.05" y="851.35" width="27.39" height="9.45" fill="#fedec5"/>
<rect x="163.94" y="833.44" width="27.39" height="8.95" fill="#fedec5"/>
<rect x="163.94" y="851.35" width="27.39" height="9.45" fill="#fedcc2"/>
<rect x="190.83" y="833.44" width="27.39" height="8.95" fill="#ffe8d6"/>
<rect x="190.83" y="851.35" width="27.39" height="9.45" fill="#fee6d3"/>
<rect x="217.72" y="833.44" width="27.39" height="8.95" fill="#fff2e9"/>
<rect x="217.72" y="851.35" width="27.39" height="9.45" fill="#fff1e5"/>
<rect x="244.61" y="833.44" width="27.39" height="8.95" fill="#fff2e7"/>
<rect x="244.61" y="851.35" width="27.39" height="9.45" fill="#fff0e4"/>
<rect x="271.5" y="833.44" width="27.39" height="8.95" fill="#fff2e8"/>
<rect x="271.5" y="851.35" width="27.39" height="9.45" fill="#fff0e5"/>
<rect x="298.39" y="833.44" width="27.39" height="8.95" fill="#fff2e8"/>
<rect x="298.39" y="851.35" width="27.39" height="9.45" fill="#fff0e4"/>
<rect x="325.28" y="833.44" width="27.39" height="8.95" fill="#fff3e9"/>
<rect x="325.28" y="851.35" width="27.39" height="9.45" fill="#fff1e6"/>
<rect x="352.17" y="833.44" width="27.39" height="8.95" fill="#fff3ea"/>
<rect x="352.17" y="851.35" width="27.39" height="9.45" fill="#fff2e7"/>
<rect x="379.06" y="833.44" width="27.39" height="8.95" fill="#fff2e9"/>
<rect x="379.06" y="851.35" width="27.39" height="9.45" fill="#fff1e5"/>
<rect x="405.95" y="833.44" width="27.39" height="8.95" fill="#fff3ea"/>
<rect x="405.95" y="851.35" width="27.39" height="9.45" fill="#fff1e7"/>
<rect x="432.84" y="833.44" width="27.39" height="8.95" fill="#fff3ea"/>
<rect x="432.84" y="851.35" width="27.39" height="9.45" fill="#fff1e6"/>
<rect x="459.73" y="833.44" width="27.39" height="8.95" fill="#fff4ec"/>
<rect x="459.73" y="851.35" width="27.39" height="9.45" fill="#fff2e9"/>
<rect x="486.62" y="833.44" width="27.39" height="8.95" fill="#fff5ee"/>
<rect x="486.62" y="851.35" width="27.39" height="9.45" fill="#fff3ea"/>
<rect x="513.51" y="833.44" width="27.39" height="27.36" fill="#042f74"/>
<rect x="540.4" y="833.44" width="27.39" height="27.36" fill="#0491cb"/>
<rect x="567.29" y="833.44" width="27.39" height="27.36" fill="#048ec9"/>
<rect x="594.18" y="833.44" width="27.39" height="27.36" fill="#058cc8"/>
<rect x="621.07" y="833.44" width="27.39" height="27.36" fill="#048fca"/>
<rect x="647.96" y="833.44" width="27.39" height="27.36" fill="#0695cd"/>
<rect x="674.85" y="833.44" width="27.39" height="27.36" fill="#0492cb"/>
<rect x="701.74" y="833.44" width="27.39" height="27.36" fill="#0796cd"/>
<rect x="728.63" y="833.44" width="27.39" height="27.36" fill="#0491cb"/>
<rect x="755.52" y="833.44" width="27.39" height="27.36" fill="#cae1f2"/>
<rect x="782.41" y="833.44" width="26.89" height="27.36" fill="#cae0f2"/>
<rect x="2.6" y="860.3" width="27.39" height="9.45" fill="#fed5b4"/>
<rect x="2.6" y="869.25" width="27.39" height="9.45" fill="#dedede"/>
<rect x="2.6" y="878.21" width="27.39" height="9.45" fill="#fed3b0"/>
<rect x="29.49" y="860.3" width="27.39" height="8.95" fill="#fed1ad"/>
<rect x="29.49" y="878.21" width="27.39" height="9.45" fill="#fecfa9"/>
<rect x="56.38" y="860.3" width="27.39" height="8.95" fill="#fedcc2"/>
<rect x="56.38" y="878.21" width="27.39" height="9.45" fill="#fedbbe"/>
<rect x="83.27" y="860.3" width="27.39" height="8.95" fill="#fedbc0"/>
<rect x="83.27" y="878.21" width="27.39" height="9.45" fill="#fedabd"/>
<rect x="110.16" y="860.3" width="27.39" height="8.95" fill="#feddc3"/>
<rect x="110.16" y="878.21" width="27.39" height="9.45" fill="#fedbc0"/>
<rect x="137.05" y="860.3" width="27.39" height="8.95" fill="#fee0c8"/>
<rect x="137.05" y="878.21" width="27.39" height="9.45" fill="#fedec5"/>
<rect x="163.94" y="860.3" width="27.39" height="8.95" fill="#fedfc6"/>
<rect x="163.94" y="878.21" width="27.39" height="9.45" fill="#feddc2"/>
<rect x="190.83" y="860.3" width="27.39" height="8.95" fill="#fee7d5"/>
<rect x="190.83" y="878.21" width="27.39" height="9.45" fill="#fee5d1"/>
<rect x="217.72" y="860.3" width="27.39" height="8.95" fill="#fff3ea"/>
<rect x="217.72" y="878.21" width="27.39" height="9.45" fill="#fff2e7"/>
<rect x="244.61" y="860.3" width="27.39" height="8.95" fill="#fff2e9"/>
<rect x="244.61" y="878.21" width="27.39" height="9.45" fill="#fff1e5"/>
<rect x="271.5" y="860.3" width="27.39" height="8.95" fill="#fff3ea"/>
<rect x="271.5" y="878.21" width="27.39" height="9.45" fill="#fff1e6"/>
<rect x="298.39" y="860.3" width="27.39" height="8.95" fill="#fff3e9"/>
<rect x="298.39" y="878.21" width="27.39" height="9.45" fill="#fff1e6"/>
<rect x="325.28" y="860.3" width="27.39" height="8.95" fill="#fff4eb"/>
<rect x="325.28" y="878.21" width="27.39" height="9.45" fill="#fff2e8"/>
<rect x="352.17" y="860.3" width="27.39" height="8.95" fill="#fff4ec"/>
<rect x="352.17" y="878.21" width="27.39" height="9.45" fill="#fff3e9"/>
<rect x="379.06" y="860.3" width="27.39" height="8.95" fill="#fff4eb"/>
<rect x="379.06" y="878.21" width="27.39" height="9.45" fill="#fff2e8"/>
<rect x="405.95" y="860.3" width="27.39" height="8.95" fill="#fff4eb"/>
<rect x="405.95" y="878.21" width="27.39" height="9.45" fill="#fff2e8"/>
<rect x="432.84" y="860.3" width="27.39" height="8.95" fill="#fff3ea"/>
<rect x="432.84" y="878.21" width="27.39" height="9.45" fill="#fff1e7"/>
<rect x="459.73" y="860.3" width="27.39" height="8.95" fill="#fff4ec"/>
<rect x="459.73" y="878.21" width="27.39" height="9.45" fill="#fff2e8"/>
<rect x="486.62" y="860.3" width="27.39" height="8.95" fill="#fff5ed"/>
<rect x="486.62" y="878.21" width="27.39" height="9.45" fill="#fff3ea"/>
<rect x="513.51" y="860.3" width="27.39" height="8.95" fill="#fff4eb"/>
<rect x="513.51" y="878.21" width="27.39" height="9.45" fill="#fff2e8"/>
<rect x="540.4" y="860.3" width="27.39" height="27.36" fill="#042f74"/>
<rect x="567.29" y="860.3" width="27.39" height="27.36" fill="#058bc7"/>
<rect x="594.18" y="860.3" width="27.39" height="27.36" fill="#0589c6"/>
<rect x="621.07" y="860.3" width="27.39" height="27.36" fill="#048ec9"/>
<rect x="647.96" y="860.3" width="27.39" height="27.36" fill="#0696cd"/>
<rect x="674.85" y="860.3" width="27.39" height="27.36" fill="#0491ca"/>
<rect x="701.74" y="860.3" width="27.39" height="27.36" fill="#0796cd"/>
<rect x="728.63" y="860.3" width="27.39" height="27.36" fill="#058ac6"/>
<rect x="755.52" y="860.3" width="27.39" height="27.36" fill="#c9e0f2"/>
<rect x="782.41" y="860.3" width="26.89" height="27.36" fill="#c9e0f2"/>
<rect x="2.6" y="887.16" width="27.39" height="9.45" fill="#fed5b4"/>
<rect x="2.6" y="896.11" width="27.39" height="9.45" fill="#dedede"/>
<rect x="2.6" y="905.07" width="27.39" height="9.45" fill="#fed3b1"/>
<rect x="29.49" y="887.16" width="27.39" height="8.95" fill="#fecfaa"/>
<rect x="29.49" y="905.07" width="27.39" height="9.45" fill="#fecda7"/>
<rect x="56.38" y="887.16" width="27.39" height="8.95" fill="#feddc3"/>
<rect x="56.38" y="905.07" width="27.39" height="9.45" fill="#fedbbf"/>
<rect x="83.27" y="887.16" width="27.39" height="8.95" fill="#feddc2"/>
<rect x="83.27" y="905.07" width="27.39" height="9.45" fill="#fedbbf"/>
<rect x="110.16" y="887.16" width="27.39" height="8.95" fill="#fedec4"/>
<rect x="110.16" y="905.07" width="27.39" height="9.45" fill="#fedcc1"/>
<rect x="137.05" y="887.16" width="27.39" height="8.95" fill="#fee0c8"/>
<rect x="137.05" y="905.07" width="27.39" height="9.45" fill="#fedec5"/>
<rect x="163.94" y="887.16" width="27.39" height="8.95" fill="#fedfc6"/>
<rect x="163.94" y="905.07" width="27.39" height="9.45" fill="#feddc2"/>
<rect x="190.83" y="887.16" width="27.39" height="8.95" fill="#ffe8d7"/>
<rect x="190.83" y="905.07" width="27.39" height="9.45" fill="#fee6d3"/>
<rect x="217.72" y="887.16" width="27.39" height="8.95" fill="#fff3ea"/>
<rect x="217.72" y="905.07" width="27.39" height="9.45" fill="#fff1e7"/>
<rect x="244.61" y="887.16" width="27.39" height="8.95" fill="#fff3e9"/>
<rect x="244.61" y="905.07" width="27.39" height="9.45" fill="#fff1e6"/>
<rect x="271.5" y="887.16" width="27.39" height="8.95" fill="#fff4eb"/>
<rect x="271.5" y="905.07" width="27.39" height="9.45" fill="#fff2e8"/>
<rect x="298.39" y="887.16" width="27.39" height="8.95" fill="#fff3ea"/>
<rect x="298.39" y="905.07" width="27.39" height="9.45" fill="#fff1e7"/>
<rect x="325.28" y="887.16" width="27.39" height="8.95" fill="#fff4ec"/>
<rect x="325.28" y="905.07" width="27.39" height="9.45" fill="#fff2e9"/>
<rect x="352.17" y="887.16" width="27.39" height="8.95" fill="#fff4ec"/>
<rect x="352.17" y="905.07" width="27.39" height="9.45" fill="#fff3e9"/>
<rect x="379.06" y="887.16" width="27.39" height="8.95" fill="#fff4eb"/>
<rect x="379.06" y="905.07" width="27.39" height="9.45" fill="#fff2e8"/>
<rect x="405.95" y="887.16" width="27.39" height="8.95" fill="#fff5ed"/>
<rect x="405.95" y="905.07" width="27.39" height="9.45" fill="#fff3ea"/>
<rect x="432.84" y="887.16" width="27.39" height="8.95" fill="#fff4ec"/>
<rect x="432.84" y="905.07" width="27.39" height="9.45" fill="#fff2e9"/>
<rect x="459.73" y="887.16" width="27.39" height="8.95" fill="#fff4eb"/>
<rect x="459.73" y="905.07" width="27.39" height="9.45" fill="#fff2e7"/>
<rect x="486.62" y="887.16" width="27.39" height="8.95" fill="#fff5ec"/>
<rect x="486.62" y="905.07" width="27.39" height="9.45" fill="#fff3e9"/>
<rect x="513.51" y="887.16" width="27.39" height="8.95" fill="#fff5ed"/>
<rect x="513.51" y="905.07" width="27.39" height="9.45" fill="#fff3ea"/>
<rect x="540.4" y="887.16" width="27.39" height="8.95" fill="#fff6ee"/>
<rect x="540.4" y="905.07" width="27.39" height="9.45" fill="#fff4eb"/>
<rect x="567.29" y="887.16" width="27.39" height="27.36" fill="#042f74"/>
<rect x="594.18" y="887.16" width="27.39" height="27.36" fill="#0587c5"/>
<rect x="621.07" y="887.16" width="27.39" height="27.36" fill="#058ac7"/>
<rect x="647.96" y="887.16" width="27.39" height="27.36" fill="#0490ca"/>
<rect x="674.85" y="887.16" width="27.39" height="27.36" fill="#058bc7"/>
<rect x="701.74" y="887.16" width="27.39" height="27.36" fill="#048fc9"/>
<rect x="728.63" y="887.16" width="27.39" height="27.36" fill="#058cc8"/>
<rect x="755.52" y="887.16" width="27.39" height="27.36" fill="#c8e0f1"/>
<rect x="782.41" y="887.16" width="26.89" height="27.36" fill="#c9e0f2"/>
<rect x="2.6" y="914.02" width="27.39" height="8.95" fill="#fed4b3"/>
<rect x="2.6" y="931.93" width="27.39" height="9.45" fill="#fed2b0"/>
<rect x="29.49" y="914.02" width="27.39" height="8.95" fill="#fed0ab"/>
<rect x="29.49" y="931.93" width="27.39" height="9.45" fill="#fecea8"/>
<rect x="56.38" y="914.02" width="27.39" height="8.95" fill="#feddc3"/>
<rect x="56.38" y="931.93" width="27.39" height="9.45" fill="#fedcc0"/>
<rect x="83.27" y="914.02" width="27.39" height="8.95" fill="#fedcc2"/>
<rect x="83.27" y="931.93" width="27.39" height="9.45" fill="#fedbbe"/>
<rect x="110.16" y="914.02" width="27.39" height="8.95" fill="#fedec5"/>
<rect x="110.16" y="931.93" width="27.39" height="9.45" fill="#fedcc2"/>
<rect x="137.05" y="914.02" width="27.39" height="8.95" fill="#fee0c7"/>
<rect x="137.05" y="931.93" width="27.39" height="9.45" fill="#fedec4"/>
<rect x="163.94" y="914.02" width="27.39" height="8.95" fill="#fedfc5"/>
<rect x="163.94" y="931.93" width="27.39" height="9.45" fill="#feddc2"/>
<rect x="190.83" y="914.02" width="27.39" height="8.95" fill="#ffe8d6"/>
<rect x="190.83" y="931.93" width="27.39" height="9.45" fill="#fee6d3"/>
<rect x="217.72" y="914.02" width="27.39" height="8.95" fill="#fff4eb"/>
<rect x="217.72" y="931.93" width="27.39" height="9.45" fill="#fff2e8"/>
<rect x="244.61" y="914.02" width="27.39" height="8.95" fill="#fff3ea"/>
<rect x="244.61" y="931.93" width="27.39" height="9.45" fill="#fff1e6"/>
<rect x="271.5" y="914.02" width="27.39" height="8.95" fill="#fff4ec"/>
<rect x="271.5" y="931.93" width="27.39" height="9.45" fill="#fff2e9"/>
<rect x="298.39" y="914.02" width="27.39" height="8.95" fill="#fff4eb"/>
<rect x="298.39" y="931.93" width="27.39" height="9.45" fill="#fff2e8"/>
<rect x="325.28" y="914.02" width="27.39" height="8.95" fill="#fff5ee"/>
<rect x="325.28" y="931.93" width="27.39" height="9.45" fill="#fff3ea"/>
<rect x="352.17" y="914.02" width="27.39" height="8.95" fill="#fff5ee"/>
<rect x="352.17" y="931.93" width="27.39" height="9.45" fill="#fff4eb"/>
<rect x="379.06" y="914.02" width="27.39" height="8.95" fill="#fff4ec"/>
<rect x="379.06" y="931.93" width="27.39" height="9.45" fill="#fff3e9"/>
<rect x="405.95" y="914.02" width="27.39" height="8.95" fill="#fff7f0"/>
<rect x="405.95" y="931.93" width="27.39" height="9.45" fill="#fff5ed"/>
<rect x="432.84" y="914.02" width="27.39" height="8.95" fill="#fff4ec"/>
<rect x="432.84" y="931.93" width="27.39" height="9.45" fill="#fff2e8"/>
<rect x="459.73" y="914.02" width="27.39" height="8.95" fill="#fff4ec"/>
<rect x="459.73" y="931.93" width="27.39" height="9.45" fill="#fff3e9"/>
<rect x="486.62" y="914.02" width="27.39" height="8.95" fill="#fff5ed"/>
<rect x="486.62" y="931.93" width="27.39" height="9.45" fill="#fff3ea"/>
<rect x="513.51" y="914.02" width="27.39" height="8.95" fill="#fff5ee"/>
<rect x="513.51" y="931.93" width="27.39" height="9.45" fill="#fff4eb"/>
<rect x="540.4" y="914.02" width="27.39" height="8.95" fill="#fff6ef"/>
<rect x="540.4" y="931.93" width="27.39" height="9.45" fill="#fff4ec"/>
<rect x="567.29" y="914.02" width="27.39" height="8.95" fill="#fff7f0"/>
<rect x="567.29" y="931.93" width="27.39" height="9.45" fill="#fff5ed"/>
<rect x="594.18" y="914.02" width="27.39" height="27.36" fill="#042f74"/>
<rect x="621.07" y="914.02" width="27.39" height="27.36" fill="#0d6fb7"/>
<rect x="647.96" y="914.02" width="27.39" height="27.36" fill="#0491ca"/>
<rect x="674.85" y="914.02" width="27.39" height="27.36" fill="#0490ca"/>
<rect x="701.74" y="914.02" width="27.39" height="27.36" fill="#048dc8"/>
<rect x="728.63" y="914.02" width="27.39" height="27.36" fill="#048dc8"/>
<rect x="755.52" y="914.02" width="27.39" height="27.36" fill="#c7dff1"/>
<rect x="782.41" y="914.02" width="26.89" height="27.36" fill="#cbe1f2"/>
<rect x="2.6" y="940.88" width="27.39" height="9.45" fill="#fed4b3"/>
<rect x="2.6" y="949.83" width="27.39" height="9.45" fill="#dedede"/>
<rect x="2.6" y="958.79" width="27.39" height="9.45" fill="#fed2af"/>
<rect x="29.49" y="940.88" width="27.39" height="8.95" fill="#fecfaa"/>
<rect x="29.49" y="958.79" width="27.39" height="9.45" fill="#fecda7"/>
<rect x="56.38" y="940.88" width="27.39" height="8.95" fill="#feddc3"/>
<rect x="56.38" y="958.79" width="27.39" height="9.45" fill="#fedcc0"/>
<rect x="83.27" y="940.88" width="27.39" height="8.95" fill="#feddc2"/>
<rect x="83.27" y="958.79" width="27.39" height="9.45" fill="#fedbbf"/>
<rect x="110.16" y="940.88" width="27.39" height="8.95" fill="#fedec4"/>
<rect x="110.16" y="958.79" width="27.39" height="9.45" fill="#fedcc0"/>
<rect x="137.05" y="940.88" width="27.39" height="8.95" fill="#fee0c7"/>
<rect x="137.05" y="958.79" width="27.39" height="9.45" fill="#fedec4"/>
<rect x="163.94" y="940.88" width="27.39" height="8.95" fill="#fedec4"/>
<rect x="163.94" y="958.79" width="27.39" height="9.45" fill="#fedcc1"/>
<rect x="190.83" y="940.88" width="27.39" height="8.95" fill="#ffe8d7"/>
<rect x="190.83" y="958.79" width="27.39" height="9.45" fill="#fee6d3"/>
<rect x="217.72" y="940.88" width="27.39" height="8.95" fill="#fff3ea"/>
<rect x="217.72" y="958.79" width="27.39" height="9.45" fill="#fff1e7"/>
<rect x="244.61" y="940.88" width="27.39" height="8.95" fill="#fff2e8"/>
<rect x="244.61" y="958.79" width="27.39" height="9.45" fill="#fff0e5"/>
<rect x="271.5" y="940.88" width="27.39" height="8.95" fill="#fff4eb"/>
<rect x="271.5" y="958.79" width="27.39" height="9.45" fill="#fff2e8"/>
<rect x="298.39" y="940.88" width="27.39" height="8.95" fill="#fff3ea"/>
<rect x="298.39" y="958.79" width="27.39" height="9.45" fill="#fff1e7"/>
<rect x="325.28" y="940.88" width="27.39" height="8.95" fill="#fff5ed"/>
<rect x="325.28" y="958.79" width="27.39" height="9.45" fill="#fff3e9"/>
<rect x="352.17" y="940.88" width="27.39" height="8.95" fill="#fff5ed"/>
<rect x="352.17" y="958.79" width="27.39" height="9.45" fill="#fff3ea"/>
<rect x="379.06" y="940.88" width="27.39" height="8.95" fill="#fff4eb"/>
<rect x="379.06" y="958.79" width="27.39" height="9.45" fill="#fff2e8"/>
<rect x="405.95" y="940.88" width="27.39" height="8.95" fill="#fff5ee"/>
<rect x="405.95" y="958.79" width="27.39" height="9.45" fill="#fff4eb"/>
<rect x="432.84" y="940.88" width="27.39" height="8.95" fill="#fff4eb"/>
<rect x="432.84" y="958.79" width="27.39" height="9.45" fill="#fff2e8"/>
<rect x="459.73" y="940.88" width="27.39" height="8.95" fill="#fff4ec"/>
<rect x="459.73" y="958.79" width="27.39" height="9.45" fill="#fff2e8"/>
<rect x="486.62" y="940.88" width="27.39" height="8.95" fill="#fff4ec"/>
<rect x="486.62" y="958.79" width="27.39" height="9.45" fill="#fff2e8"/>
<rect x="513.51" y="940.88" width="27.39" height="8.95" fill="#fff5ed"/>
<rect x="513.51" y="958.79" width="27.39" height="9.45" fill="#fff3e9"/>
<rect x="540.4" y="940.88" width="27.39" height="8.95" fill="#fff5ed"/>
<rect x="540.4" y="958.79" width="27.39" height="9.45" fill="#fff3ea"/>
<rect x="567.29" y="940.88" width="27.39" height="8.95" fill="#fff6ef"/>
<rect x="567.29" y="958.79" width="27.39" height="9.45" fill="#fff4ec"/>
<rect x="594.18" y="940.88" width="27.39" height="8.95" fill="#fffcf9"/>
<rect x="594.18" y="958.79" width="27.39" height="9.45" fill="#fffaf6"/>
<rect x="621.07" y="940.88" width="27.39" height="27.36" fill="#042f74"/>
<rect x="647.96" y="940.88" width="27.39" height="27.36" fill="#0492cb"/>
<rect x="674.85" y="940.88" width="27.39" height="27.36" fill="#0491ca"/>
<rect x="701.74" y="940.88" width="27.39" height="27.36" fill="#048fc9"/>
<rect x="728.63" y="940.88" width="27.39" height="27.36" fill="#0490ca"/>
<rect x="755.52" y="940.88" width="27.39" height="27.36" fill="#c8e0f2"/>
<rect x="782.41" y="940.88" width="26.89" height="27.36" fill="#c9e0f2"/>
<rect x="2.6" y="967.74" width="27.39" height="9.45" fill="#fed5b4"/>
<rect x="2.6" y="976.69" width="27.39" height="9.45" fill="#dedede"/>
<rect x="2.6" y="985.65" width="27.39" height="9.45" fill="#fed3b0"/>
<rect x="29.49" y="967.74" width="27.39" height="8.95" fill="#fecfa9"/>
<rect x="29.49" y="985.65" width="27.39" height="9.45" fill="#fecda6"/>
<rect x="56.38" y="967.74" width="27.39" height="8.95" fill="#feddc3"/>
<rect x="56.38" y="985.65" width="27.39" height="9.45" fill="#fedbc0"/>
<rect x="83.27" y="967.74" width="27.39" height="8.95" fill="#feddc3"/>
<rect x="83.27" y="985.65" width="27.39" height="9.45" fill="#fedbc0"/>
<rect x="110.16" y="967.74" width="27.39" height="8.95" fill="#fedec4"/>
<rect x="110.16" y="985.65" width="27.39" height="9.45" fill="#fedcc1"/>
<rect x="137.05" y="967.74" width="27.39" height="8.95" fill="#fee0c7"/>
<rect x="137.05" y="985.65" width="27.39" height="9.45" fill="#fedec4"/>
<rect x="163.94" y="967.74" width="27.39" height="8.95" fill="#fedfc6"/>
<rect x="163.94" y="985.65" width="27.39" height="9.45" fill="#feddc3"/>
<rect x="190.83" y="967.74" width="27.39" height="8.95" fill="#ffe8d7"/>
<rect x="190.83" y="985.65" width="27.39" height="9.45" fill="#fee6d3"/>
<rect x="217.72" y="967.74" width="27.39" height="8.95" fill="#fff3ea"/>
<rect x="217.72" y="985.65" width="27.39" height="9.45" fill="#fff1e7"/>
<rect x="244.61" y="967.74" width="27.39" height="8.95" fill="#fff3e9"/>
<rect x="244.61" y="985.65" width="27.39" height="9.45" fill="#fff1e6"/>
<rect x="271.5" y="967.74" width="27.39" height="8.95" fill="#fff2e9"/>
<rect x="271.5" y="985.65" width="27.39" height="9.45" fill="#fff0e5"/>
<rect x="298.39" y="967.74" width="27.39" height="8.95" fill="#fff2e8"/>
<rect x="298.39" y="985.65" width="27.39" height="9.45" fill="#fff0e5"/>
<rect x="325.28" y="967.74" width="27.39" height="8.95" fill="#fff3e9"/>
<rect x="325.28" y="985.65" width="27.39" height="9.45" fill="#fff1e6"/>
<rect x="352.17" y="967.74" width="27.39" height="8.95" fill="#fff3ea"/>
<rect x="352.17" y="985.65" width="27.39" height="9.45" fill="#fff1e7"/>
<rect x="379.06" y="967.74" width="27.39" height="8.95" fill="#fff3e9"/>
<rect x="379.06" y="985.65" width="27.39" height="9.45" fill="#fff1e6"/>
<rect x="405.95" y="967.74" width="27.39" height="8.95" fill="#fff3e9"/>
<rect x="405.95" y="985.65" width="27.39" height="9.45" fill="#fff1e6"/>
<rect x="432.84" y="967.74" width="27.39" height="8.95" fill="#fff4eb"/>
<rect x="432.84" y="985.65" width="27.39" height="9.45" fill="#fff2e8"/>
<rect x="459.73" y="967.74" width="27.39" height="8.95" fill="#fff2e8"/>
<rect x="459.73" y="985.65" width="27.39" height="9.45" fill="#fff0e5"/>
<rect x="486.62" y="967.74" width="27.39" height="8.95" fill="#fff3e9"/>
<rect x="486.62" y="985.65" width="27.39" height="9.45" fill="#fff1e6"/>
<rect x="513.51" y="967.74" width="27.39" height="8.95" fill="#fff3ea"/>
<rect x="513.51" y="985.65" width="27.39" height="9.45" fill="#fff1e7"/>
<rect x="540.4" y="967.74" width="27.39" height="8.95" fill="#fff3ea"/>
<rect x="540.4" y="985.65" width="27.39" height="9.45" fill="#fff1e7"/>
<rect x="567.29" y="967.74" width="27.39" height="8.95" fill="#fff4ec"/>
<rect x="567.29" y="985.65" width="27.39" height="9.45" fill="#fff2e9"/>
<rect x="594.18" y="967.74" width="27.39" height="8.95" fill="#fff4ec"/>
<rect x="594.18" y="985.65" width="27.39" height="9.45" fill="#fff2e9"/>
<rect x="621.07" y="967.74" width="27.39" height="8.95" fill="#fff4eb"/>
<rect x="621.07" y="985.65" width="27.39" height="9.45" fill="#fff2e8"/>
<rect x="647.96" y="967.74" width="27.39" height="27.36" fill="#042f74"/>
<rect x="674.85" y="967.74" width="27.39" height="27.36" fill="#0492cb"/>
<rect x="701.74" y="967.74" width="27.39" height="27.36" fill="#0490ca"/>
<rect x="728.63" y="967.74" width="27.39" height="27.36" fill="#0491ca"/>
<rect x="755.52" y="967.74" width="27.39" height="27.36" fill="#c6dff1"/>
<rect x="782.41" y="967.74" width="26.89" height="27.36" fill="#c9e0f2"/>
<rect x="2.6" y="994.6" width="27.39" height="9.45" fill="#fed5b4"/>
<rect x="2.6" y="1003.55" width="27.39" height="9.45" fill="#dedede"/>
<rect x="2.6" y="1012.51" width="27.39" height="9.45" fill="#fed3b1"/>
<rect x="29.49" y="994.6" width="27.39" height="8.95" fill="#fed0ac"/>
<rect x="29.49" y="1012.51" width="27.39" height="9.45" fill="#fecea9"/>
<rect x="56.38" y="994.6" width="27.39" height="8.95" fill="#fedcc2"/>
<rect x="56.38" y="1012.51" width="27.39" height="9.45" fill="#fedbbe"/>
<rect x="83.27" y="994.6" width="27.39" height="8.95" fill="#fedcc1"/>
<rect x="83.27" y="1012.51" width="27.39" height="9.45" fill="#fedabe"/>
<rect x="110.16" y="994.6" width="27.39" height="8.95" fill="#fedec4"/>
<rect x="110.16" y="1012.51" width="27.39" height="9.45" fill="#fedcc1"/>
<rect x="137.05" y="994.6" width="27.39" height="8.95" fill="#fedfc6"/>
<rect x="137.05" y="1012.51" width="27.39" height="9.45" fill="#feddc2"/>
<rect x="163.94" y="994.6" width="27.39" height="8.95" fill="#fedec5"/>
<rect x="163.94" y="1012.51" width="27.39" height="9.45" fill="#fedcc2"/>
<rect x="190.83" y="994.6" width="27.39" height="8.95" fill="#ffe8d6"/>
<rect x="190.83" y="1012.51" width="27.39" height="9.45" fill="#fee6d3"/>
<rect x="217.72" y="994.6" width="27.39" height="8.95" fill="#fff4eb"/>
<rect x="217.72" y="1012.51" width="27.39" height="9.45" fill="#fff2e8"/>
<rect x="244.61" y="994.6" width="27.39" height="8.95" fill="#fff3ea"/>
<rect x="244.61" y="1012.51" width="27.39" height="9.45" fill="#fff1e7"/>
<rect x="271.5" y="994.6" width="27.39" height="8.95" fill="#fff3ea"/>
<rect x="271.5" y="1012.51" width="27.39" height="9.45" fill="#fff1e7"/>
<rect x="298.39" y="994.6" width="27.39" height="8.95" fill="#fff2e8"/>
<rect x="298.39" y="1012.51" width="27.39" height="9.45" fill="#fff0e4"/>
<rect x="325.28" y="994.6" width="27.39" height="8.95" fill="#fff3e9"/>
<rect x="325.28" y="1012.51" width="27.39" height="9.45" fill="#fff1e6"/>
<rect x="352.17" y="994.6" width="27.39" height="8.95" fill="#fff3eb"/>
<rect x="352.17" y="1012.51" width="27.39" height="9.45" fill="#fff2e7"/>
<rect x="379.06" y="994.6" width="27.39" height="8.95" fill="#fff3ea"/>
<rect x="379.06" y="1012.51" width="27.39" height="9.45" fill="#fff1e6"/>
<rect x="405.95" y="994.6" width="27.39" height="8.95" fill="#fff3ea"/>
<rect x="405.95" y="1012.51" width="27.39" height="9.45" fill="#fff1e6"/>
<rect x="432.84" y="994.6" width="27.39" height="8.95" fill="#fff4eb"/>
<rect x="432.84" y="1012.51" width="27.39" height="9.45" fill="#fff2e8"/>
<rect x="459.73" y="994.6" width="27.39" height="8.95" fill="#fff3e9"/>
<rect x="459.73" y="1012.51" width="27.39" height="9.45" fill="#fff1e6"/>
<rect x="486.62" y="994.6" width="27.39" height="8.95" fill="#fff4eb"/>
<rect x="486.62" y="1012.51" width="27.39" height="9.45" fill="#fff2e8"/>
<rect x="513.51" y="994.6" width="27.39" height="8.95" fill="#fff4eb"/>
<rect x="513.51" y="1012.51" width="27.39" height="9.45" fill="#fff2e8"/>
<rect x="540.4" y="994.6" width="27.39" height="8.95" fill="#fff4ec"/>
<rect x="540.4" y="1012.51" width="27.39" height="9.45" fill="#fff2e8"/>
<rect x="567.29" y="994.6" width="27.39" height="8.95" fill="#fff6ee"/>
<rect x="567.29" y="1012.51" width="27.39" height="9.45" fill="#fff4eb"/>
<rect x="594.18" y="994.6" width="27.39" height="8.95" fill="#fff4ec"/>
<rect x="594.18" y="1012.51" width="27.39" height="9.45" fill="#fff3e9"/>
<rect x="621.07" y="994.6" width="27.39" height="8.95" fill="#fff4ec"/>
<rect x="621.07" y="1012.51" width="27.39" height="9.45" fill="#fff2e8"/>
<rect x="647.96" y="994.6" width="27.39" height="8.95" fill="#fff4eb"/>
<rect x="647.96" y="1012.51" width="27.39" height="9.45" fill="#fff2e8"/>
<rect x="674.85" y="994.6" width="27.39" height="27.36" fill="#042f74"/>
<rect x="701.74" y="994.6" width="27.39" height="27.36" fill="#048fc9"/>
<rect x="728.63" y="994.6" width="27.39" height="27.36" fill="#058bc7"/>
<rect x="755.52" y="994.6" width="27.39" height="27.36" fill="#c7dff1"/>
<rect x="782.41" y="994.6" width="26.89" height="27.36" fill="#cae0f2"/>
<rect x="2.6" y="1021.46" width="27.39" height="9.45" fill="#fed5b5"/>
<rect x="2.6" y="1030.41" width="27.39" height="9.45" fill="#dedede"/>
<rect x="2.6" y="1039.37" width="27.39" height="9.45" fill="#fed3b2"/>
<rect x="29.49" y="1021.46" width="27.39" height="8.95" fill="#fed0ab"/>
<rect x="29.49" y="1039.37" width="27.39" height="9.45" fill="#fecea8"/>
<rect x="56.38" y="1021.46" width="27.39" height="8.95" fill="#fedcc2"/>
<rect x="56.38" y="1039.37" width="27.39" height="9.45" fill="#fedbbe"/>
<rect x="83.27" y="1021.46" width="27.39" height="8.95" fill="#fedcc0"/>
<rect x="83.27" y="1039.37" width="27.39" height="9.45" fill="#fedabd"/>
<rect x="110.16" y="1021.46" width="27.39" height="8.95" fill="#fedec4"/>
<rect x="110.16" y="1039.37" width="27.39" height="9.45" fill="#fedcc1"/>
<rect x="137.05" y="1021.46" width="27.39" height="8.95" fill="#fedfc6"/>
<rect x="137.05" y="1039.37" width="27.39" height="9.45" fill="#feddc3"/>
<rect x="163.94" y="1021.46" width="27.39" height="8.95" fill="#fedec4"/>
<rect x="163.94" y="1039.37" width="27.39" height="9.45" fill="#fedcc1"/>
<rect x="190.83" y="1021.46" width="27.39" height="8.95" fill="#ffe8d6"/>
<rect x="190.83" y="1039.37" width="27.39" height="9.45" fill="#fee6d3"/>
<rect x="217.72" y="1021.46" width="27.39" height="8.95" fill="#fff3e9"/>
<rect x="217.72" y="1039.37" width="27.39" height="9.45" fill="#fff1e6"/>
<rect x="244.61" y="1021.46" width="27.39" height="8.95" fill="#fff3e9"/>
<rect x="244.61" y="1039.37" width="27.39" height="9.45" fill="#fff1e6"/>
<rect x="271.5" y="1021.46" width="27.39" height="8.95" fill="#fff3ea"/>
<rect x="271.5" y="1039.37" width="27.39" height="9.45" fill="#fff2e7"/>
<rect x="298.39" y="1021.46" width="27.39" height="8.95" fill="#fff3ea"/>
<rect x="298.39" y="1039.37" width="27.39" height="9.45" fill="#fff1e7"/>
<rect x="325.28" y="1021.46" width="27.39" height="8.95" fill="#fff3ea"/>
<rect x="325.28" y="1039.37" width="27.39" height="9.45" fill="#fff1e7"/>
<rect x="352.17" y="1021.46" width="27.39" height="8.95" fill="#fff3ea"/>
<rect x="352.17" y="1039.37" width="27.39" height="9.45" fill="#fff1e7"/>
<rect x="379.06" y="1021.46" width="27.39" height="8.95" fill="#fff3e9"/>
<rect x="379.06" y="1039.37" width="27.39" height="9.45" fill="#fff1e6"/>
<rect x="405.95" y="1021.46" width="27.39" height="8.95" fill="#fff5ed"/>
<rect x="405.95" y="1039.37" width="27.39" height="9.45" fill="#fff3ea"/>
<rect x="432.84" y="1021.46" width="27.39" height="8.95" fill="#fff4ec"/>
<rect x="432.84" y="1039.37" width="27.39" height="9.45" fill="#fff3e9"/>
<rect x="459.73" y="1021.46" width="27.39" height="8.95" fill="#fff3ea"/>
<rect x="459.73" y="1039.37" width="27.39" height="9.45" fill="#fff1e6"/>
<rect x="486.62" y="1021.46" width="27.39" height="8.95" fill="#fff3ea"/>
<rect x="486.62" y="1039.37" width="27.39" height="9.45" fill="#fff1e6"/>
<rect x="513.51" y="1021.46" width="27.39" height="8.95" fill="#fff3ea"/>
<rect x="513.51" y="1039.37" width="27.39" height="9.45" fill="#fff1e6"/>
<rect x="540.4" y="1021.46" width="27.39" height="8.95" fill="#fff3ea"/>
<rect x="540.4" y="1039.37" width="27.39" height="9.45" fill="#fff1e7"/>
<rect x="567.29" y="1021.46" width="27.39" height="8.95" fill="#fff5ed"/>
<rect x="567.29" y="1039.37" width="27.39" height="9.45" fill="#fff3e9"/>
<rect x="594.18" y="1021.46" width="27.39" height="8.95" fill="#fff5ee"/>
<rect x="594.18" y="1039.37" width="27.39" height="9.45" fill="#fff3ea"/>
<rect x="621.07" y="1021.46" width="27.39" height="8.95" fill="#fff5ed"/>
<rect x="621.07" y="1039.37" width="27.39" height="9.45" fill="#fff3e9"/>
<rect x="647.96" y="1021.46" width="27.39" height="8.95" fill="#fff4ec"/>
<rect x="647.96" y="1039.37" width="27.39" height="9.45" fill="#fff2e9"/>
<rect x="674.85" y="1021.46" width="27.39" height="8.95" fill="#fff5ed"/>
<rect x="674.85" y="1039.37" width="27.39" height="9.45" fill="#fff3e9"/>
<rect x="701.74" y="1021.46" width="27.39" height="27.36" fill="#042f74"/>
<rect x="728.63" y="1021.46" width="27.39" height="27.36" fill="#0a79be"/>
<rect x="755.52" y="1021.46" width="27.39" height="27.36" fill="#c6dff1"/>
<rect x="782.41" y="1021.46" width="26.89" height="27.36" fill="#cae1f2"/>
<rect x="2.6" y="1048.32" width="27.39" height="8.95" fill="#fed4b2"/>
<rect x="2.6" y="1066.23" width="27.39" height="9.45" fill="#fed2af"/>
<rect x="29.49" y="1048.32" width="27.39" height="8.95" fill="#fed1ad"/>
<rect x="29.49" y="1066.23" width="27.39" height="9.45" fill="#fecfa9"/>
<rect x="56.38" y="1048.32" width="27.39" height="8.95" fill="#feddc2"/>
<rect x="56.38" y="1066.23" width="27.39" height="9.45" fill="#fedbbf"/>
<rect x="83.27" y="1048.32" width="27.39" height="8.95" fill="#fedcc1"/>
<rect x="83.27" y="1066.23" width="27.39" height="9.45" fill="#fedabd"/>
<rect x="110.16" y="1048.32" width="27.39" height="8.95" fill="#fedec4"/>
<rect x="110.16" y="1066.23" width="27.39" height="9.45" fill="#fedcc1"/>
<rect x="137.05" y="1048.32" width="27.39" height="8.95" fill="#fee0c7"/>
<rect x="137.05" y="1066.23" width="27.39" height="9.45" fill="#fedec4"/>
<rect x="163.94" y="1048.32" width="27.39" height="8.95" fill="#fee0c7"/>
<rect x="163.94" y="1066.23" width="27.39" height="9.45" fill="#fedec4"/>
<rect x="190.83" y="1048.32" width="27.39" height="8.95" fill="#ffe8d7"/>
<rect x="190.83" y="1066.23" width="27.39" height="9.45" fill="#fee6d3"/>
<rect x="217.72" y="1048.32" width="27.39" height="8.95" fill="#fff4eb"/>
<rect x="217.72" y="1066.23" width="27.39" height="9.45" fill="#fff2e7"/>
<rect x="244.61" y="1048.32" width="27.39" height="8.95" fill="#fff3ea"/>
<rect x="244.61" y="1066.23" width="27.39" height="9.45" fill="#fff1e7"/>
<rect x="271.5" y="1048.32" width="27.39" height="8.95" fill="#fff3ea"/>
<rect x="271.5" y="1066.23" width="27.39" height="9.45" fill="#fff1e6"/>
<rect x="298.39" y="1048.32" width="27.39" height="8.95" fill="#fff3e9"/>
<rect x="298.39" y="1066.23" width="27.39" height="9.45" fill="#fff1e6"/>
<rect x="325.28" y="1048.32" width="27.39" height="8.95" fill="#fff3ea"/>
<rect x="325.28" y="1066.23" width="27.39" height="9.45" fill="#fff1e7"/>
<rect x="352.17" y="1048.32" width="27.39" height="8.95" fill="#fff4eb"/>
<rect x="352.17" y="1066.23" width="27.39" height="9.45" fill="#fff2e8"/>
<rect x="379.06" y="1048.32" width="27.39" height="8.95" fill="#fff4eb"/>
<rect x="379.06" y="1066.23" width="27.39" height="9.45" fill="#fff2e7"/>
<rect x="405.95" y="1048.32" width="27.39" height="8.95" fill="#fff4ec"/>
<rect x="405.95" y="1066.23" width="27.39" height="9.45" fill="#fff2e9"/>
<rect x="432.84" y="1048.32" width="27.39" height="8.95" fill="#fff5ed"/>
<rect x="432.84" y="1066.23" width="27.39" height="9.45" fill="#fff3ea"/>
<rect x="459.73" y="1048.32" width="27.39" height="8.95" fill="#fff5ed"/>
<rect x="459.73" y="1066.23" width="27.39" height="9.45" fill="#fff3e9"/>
<rect x="486.62" y="1048.32" width="27.39" height="8.95" fill="#fff5ed"/>
<rect x="486.62" y="1066.23" width="27.39" height="9.45" fill="#fff3e9"/>
<rect x="513.51" y="1048.32" width="27.39" height="8.95" fill="#fff4eb"/>
<rect x="513.51" y="1066.23" width="27.39" height="9.45" fill="#fff2e8"/>
<rect x="540.4" y="1048.32" width="27.39" height="8.95" fill="#fff6ef"/>
<rect x="540.4" y="1066.23" width="27.39" height="9.45" fill="#fff4ec"/>
<rect x="567.29" y="1048.32" width="27.39" height="8.95" fill="#fff5ee"/>
<rect x="567.29" y="1066.23" width="27.39" height="9.45" fill="#fff4eb"/>
<rect x="594.18" y="1048.32" width="27.39" height="8.95" fill="#fff5ee"/>
<rect x="594.18" y="1066.23" width="27.39" height="9.45" fill="#fff3ea"/>
<rect x="621.07" y="1048.32" width="27.39" height="8.95" fill="#fff4ec"/>
<rect x="621.07" y="1066.23" width="27.39" height="9.45" fill="#fff3e9"/>
<rect x="647.96" y="1048.32" width="27.39" height="8.95" fill="#fff4ec"/>
<rect x="647.96" y="1066.23" width="27.39" height="9.45" fill="#fff2e9"/>
<rect x="674.85" y="1048.32" width="27.39" height="8.95" fill="#fff6ef"/>
<rect x="674.85" y="1066.23" width="27.39" height="9.45" fill="#fff4eb"/>
<rect x="701.74" y="1048.32" width="27.39" height="8.95" fill="#fffaf7"/>
<rect x="701.74" y="1066.23" width="27.39" height="9.45" fill="#fff8f3"/>
<rect x="728.63" y="1048.32" width="27.39" height="27.36" fill="#042f74"/>
<rect x="755.52" y="1048.32" width="27.39" height="27.36" fill="#c7dff1"/>
<rect x="782.41" y="1048.32" width="26.89" height="27.36" fill="#c9e0f2"/>
<rect x="2.6" y="1075.18" width="27.39" height="8.95" fill="#fedcc1"/>
<rect x="2.6" y="1093.09" width="27.39" height="9.45" fill="#fedabd"/>
<rect x="29.49" y="1075.18" width="27.39" height="8.95" fill="#fed3b1"/>
<rect x="29.49" y="1093.09" width="27.39" height="9.45" fill="#fed1ae"/>
<rect x="56.38" y="1075.18" width="27.39" height="8.95" fill="#fedec4"/>
<rect x="56.38" y="1093.09" width="27.39" height="9.45" fill="#fedcc1"/>
<rect x="83.27" y="1075.18" width="27.39" height="8.95" fill="#feddc3"/>
<rect x="83.27" y="1093.09" width="27.39" height="9.45" fill="#fedbc0"/>
<rect x="110.16" y="1075.18" width="27.39" height="8.95" fill="#feddc3"/>
<rect x="110.16" y="1093.09" width="27.39" height="9.45" fill="#fedcc0"/>
<rect x="137.05" y="1075.18" width="27.39" height="8.95" fill="#fee0c8"/>
<rect x="137.05" y="1093.09" width="27.39" height="9.45" fill="#fedec4"/>
<rect x="163.94" y="1075.18" width="27.39" height="8.95" fill="#fedcc1"/>
<rect x="163.94" y="1093.09" width="27.39" height="9.45" fill="#fedabe"/>
<rect x="190.83" y="1075.18" width="27.39" height="8.95" fill="#fee6d3"/>
<rect x="190.83" y="1093.09" width="27.39" height="9.45" fill="#fee4d0"/>
<rect x="217.72" y="1075.18" width="27.39" height="8.95" fill="#fee1ca"/>
<rect x="217.72" y="1093.09" width="27.39" height="9.45" fill="#fedfc7"/>
<rect x="244.61" y="1075.18" width="27.39" height="9.45" fill="#fee1c9"/>
<rect x="244.61" y="1084.13" width="27.39" height="9.45" fill="#dedede"/>
<rect x="244.61" y="1093.09" width="27.39" height="9.45" fill="#fedfc6"/>
<rect x="271.5" y="1075.18" width="27.39" height="9.45" fill="#fee0c7"/>
<rect x="271.5" y="1084.13" width="27.39" height="9.45" fill="#dedede"/>
<rect x="271.5" y="1093.09" width="27.39" height="9.45" fill="#fedec4"/>
<rect x="298.39" y="1075.18" width="27.39" height="9.45" fill="#fee0c8"/>
<rect x="298.39" y="1084.13" width="27.39" height="9.45" fill="#dedede"/>
<rect x="298.39" y="1093.09" width="27.39" height="9.45" fill="#fedec4"/>
<rect x="325.28" y="1075.18" width="27.39" height="8.95" fill="#fedfc7"/>
<rect x="325.28" y="1093.09" width="27.39" height="9.45" fill="#feddc3"/>
<rect x="352.17" y="1075.18" width="27.39" height="9.45" fill="#fee1c9"/>
<rect x="352.17" y="1084.13" width="27.39" height="9.45" fill="#dedede"/>
<rect x="352.17" y="1093.09" width="27.39" height="9.45" fill="#fedfc6"/>
<rect x="379.06" y="1075.18" width="27.39" height="8.95" fill="#fee2cb"/>
<rect x="379.06" y="1093.09" width="27.39" height="9.45" fill="#fee0c8"/>
<rect x="405.95" y="1075.18" width="27.39" height="9.45" fill="#fee0c8"/>
<rect x="405.95" y="1084.13" width="27.39" height="9.45" fill="#dedede"/>
<rect x="405.95" y="1093.09" width="27.39" height="9.45" fill="#fedec5"/>
<rect x="432.84" y="1075.18" width="27.39" height="8.95" fill="#fee1ca"/>
<rect x="432.84" y="1093.09" width="27.39" height="9.45" fill="#fedfc7"/>
<rect x="459.73" y="1075.18" width="27.39" height="8.95" fill="#fee0c9"/>
<rect x="459.73" y="1093.09" width="27.39" height="9.45" fill="#fedec5"/>
<rect x="486.62" y="1075.18" width="27.39" height="8.95" fill="#fee0c8"/>
<rect x="486.62" y="1093.09" width="27.39" height="9.45" fill="#fedec5"/>
<rect x="513.51" y="1075.18" width="27.39" height="8.95" fill="#fedfc7"/>
<rect x="513.51" y="1093.09" width="27.39" height="9.45" fill="#feddc3"/>
<rect x="540.4" y="1075.18" width="27.39" height="9.45" fill="#fedfc7"/>
<rect x="540.4" y="1084.13" width="27.39" height="9.45" fill="#dedede"/>
<rect x="540.4" y="1093.09" width="27.39" height="9.45" fill="#fedec4"/>
<rect x="567.29" y="1075.18" width="27.39" height="8.95" fill="#fee0c9"/>
<rect x="567.29" y="1093.09" width="27.39" height="9.45" fill="#fedec5"/>
<rect x="594.18" y="1075.18" width="27.39" height="8.95" fill="#fee1c9"/>
<rect x="594.18" y="1093.09" width="27.39" height="9.45" fill="#fedfc6"/>
<rect x="621.07" y="1075.18" width="27.39" height="8.95" fill="#fee0c8"/>
<rect x="621.07" y="1093.09" width="27.39" height="9.45" fill="#fedec5"/>
<rect x="647.96" y="1075.18" width="27.39" height="8.95" fill="#fee1ca"/>
<rect x="647.96" y="1093.09" width="27.39" height="9.45" fill="#fedfc7"/>
<rect x="674.85" y="1075.18" width="27.39" height="8.95" fill="#fee1c9"/>
<rect x="674.85" y="1093.09" width="27.39" height="9.45" fill="#fedfc6"/>
<rect x="701.74" y="1075.18" width="27.39" height="8.95" fill="#fee1ca"/>
<rect x="701.74" y="1093.09" width="27.39" height="9.45" fill="#fedfc6"/>
<rect x="728.63" y="1075.18" width="27.39" height="8.95" fill="#fee1c9"/>
<rect x="728.63" y="1093.09" width="27.39" height="9.45" fill="#fedfc6"/>
<rect x="755.52" y="1075.18" width="27.39" height="27.36" fill="#042f74"/>
<rect x="782.41" y="1075.18" width="26.89" height="27.36" fill="#bddbee"/>
<rect x="2.6" y="1102.04" width="27.39" height="8.95" fill="#fed7b7"/>
<rect x="2.6" y="1119.95" width="27.39" height="8.95" fill="#fed5b4"/>
<rect x="29.49" y="1102.04" width="27.39" height="8.95" fill="#fed1ae"/>
<rect x="29.49" y="1119.95" width="27.39" height="8.95" fill="#fed0ab"/>
<rect x="56.38" y="1102.04" width="27.39" height="8.95" fill="#fedabe"/>
<rect x="56.38" y="1119.95" width="27.39" height="8.95" fill="#fed8ba"/>
<rect x="83.27" y="1102.04" width="27.39" height="8.95" fill="#fed8ba"/>
<rect x="83.27" y="1119.95" width="27.39" height="8.95" fill="#fed6b7"/>
<rect x="110.16" y="1102.04" width="27.39" height="8.95" fill="#fedbbe"/>
<rect x="110.16" y="1119.95" width="27.39" height="8.95" fill="#fed9bb"/>
<rect x="137.05" y="1102.04" width="27.39" height="8.95" fill="#fedcc1"/>
<rect x="137.05" y="1119.95" width="27.39" height="8.95" fill="#fedabe"/>
<rect x="163.94" y="1102.04" width="27.39" height="8.95" fill="#feddc2"/>
<rect x="163.94" y="1119.95" width="27.39" height="8.95" fill="#fedbbf"/>
<rect x="190.83" y="1102.04" width="27.39" height="8.95" fill="#fee5d1"/>
<rect x="190.83" y="1119.95" width="27.39" height="8.95" fill="#fee3ce"/>
<rect x="217.72" y="1102.04" width="27.39" height="8.95" fill="#fedec5"/>
<rect x="217.72" y="1119.95" width="27.39" height="8.95" fill="#fedcc2"/>
<rect x="244.61" y="1102.04" width="27.39" height="8.95" fill="#fedfc6"/>
<rect x="244.61" y="1119.95" width="27.39" height="8.95" fill="#feddc3"/>
<rect x="271.5" y="1102.04" width="27.39" height="9.45" fill="#fedec5"/>
<rect x="271.5" y="1110.99" width="27.39" height="9.45" fill="#dedede"/>
<rect x="271.5" y="1119.95" width="27.39" height="8.95" fill="#fedcc2"/>
<rect x="298.39" y="1102.04" width="27.39" height="8.95" fill="#fedec5"/>
<rect x="298.39" y="1119.95" width="27.39" height="8.95" fill="#fedcc2"/>
<rect x="325.28" y="1102.04" width="27.39" height="8.95" fill="#fedfc6"/>
<rect x="325.28" y="1119.95" width="27.39" height="8.95" fill="#feddc2"/>
<rect x="352.17" y="1102.04" width="27.39" height="9.45" fill="#fedfc6"/>
<rect x="352.17" y="1110.99" width="27.39" height="9.45" fill="#dedede"/>
<rect x="352.17" y="1119.95" width="27.39" height="8.95" fill="#feddc2"/>
<rect x="379.06" y="1102.04" width="27.39" height="8.95" fill="#fedfc7"/>
<rect x="379.06" y="1119.95" width="27.39" height="8.95" fill="#feddc3"/>
<rect x="405.95" y="1102.04" width="27.39" height="8.95" fill="#fedec5"/>
<rect x="405.95" y="1119.95" width="27.39" height="8.95" fill="#feddc2"/>
<rect x="432.84" y="1102.04" width="27.39" height="8.95" fill="#fedfc6"/>
<rect x="432.84" y="1119.95" width="27.39" height="8.95" fill="#feddc3"/>
<rect x="459.73" y="1102.04" width="27.39" height="8.95" fill="#fedfc6"/>
<rect x="459.73" y="1119.95" width="27.39" height="8.95" fill="#feddc3"/>
<rect x="486.62" y="1102.04" width="27.39" height="8.95" fill="#fedfc6"/>
<rect x="486.62" y="1119.95" width="27.39" height="8.95" fill="#feddc3"/>
<rect x="513.51" y="1102.04" width="27.39" height="8.95" fill="#fedfc7"/>
<rect x="513.51" y="1119.95" width="27.39" height="8.95" fill="#fedec4"/>
<rect x="540.4" y="1102.04" width="27.39" height="8.95" fill="#fedfc7"/>
<rect x="540.4" y="1119.95" width="27.39" height="8.95" fill="#fedec4"/>
<rect x="567.29" y="1102.04" width="27.39" height="8.95" fill="#fee0c7"/>
<rect x="567.29" y="1119.95" width="27.39" height="8.95" fill="#fedec4"/>
<rect x="594.18" y="1102.04" width="27.39" height="8.95" fill="#fedfc6"/>
<rect x="594.18" y="1119.95" width="27.39" height="8.95" fill="#feddc3"/>
<rect x="621.07" y="1102.04" width="27.39" height="8.95" fill="#fee0c8"/>
<rect x="621.07" y="1119.95" width="27.39" height="8.95" fill="#fedec4"/>
<rect x="647.96" y="1102.04" width="27.39" height="8.95" fill="#fee0c7"/>
<rect x="647.96" y="1119.95" width="27.39" height="8.95" fill="#fedec4"/>
<rect x="674.85" y="1102.04" width="27.39" height="8.95" fill="#fedfc7"/>
<rect x="674.85" y="1119.95" width="27.39" height="8.95" fill="#fedec4"/>
<rect x="701.74" y="1102.04" width="27.39" height="8.95" fill="#fedfc6"/>
<rect x="701.74" y="1119.95" width="27.39" height="8.95" fill="#feddc3"/>
<rect x="728.63" y="1102.04" width="27.39" height="8.95" fill="#fee0c7"/>
<rect x="728.63" y="1119.95" width="27.39" height="8.95" fill="#fedec4"/>
<rect x="755.52" y="1102.04" width="27.39" height="8.95" fill="#fee4ce"/>
<rect x="755.52" y="1119.95" width="27.39" height="8.95" fill="#fee2cb"/>
<rect x="782.41" y="1102.04" width="26.89" height="26.86" fill="#042f74"/>
</g>
<g opacity="0.999">
<text class="v w" x="16.05" y="340.18">100.0</text>
<text class="v" x="42.94" y="340.18">28.4</text>
<text class="v" x="69.83" y="340.18">35.1</text>
<text class="v" x="96.72" y="340.18">34.2</text>
<text class="v" x="123.6" y="340.18">32.8</text>
<text class="v" x="150.49" y="340.18">34.4</text>
<text class="v" x="177.38" y="340.18">29.8</text>
<text class="v" x="204.28" y="340.18">36.2</text>
<text class="v" x="231.16" y="340.18">32.5</text>
<text class="v" x="258.06" y="340.18">32.6</text>
<text class="v" x="284.94" y="340.18">34.6</text>
<text class="v" x="311.84" y="340.18">33.1</text>
<text class="v" x="338.73" y="340.18">33.4</text>
<text class="v" x="365.62" y="340.18">32.4</text>
<text class="v" x="392.51" y="340.18">33.1</text>
<text class="v" x="419.4" y="340.18">32.9</text>
<text class="v" x="446.29" y="340.18">35.6</text>
<text class="v" x="473.18" y="340.18">34.7</text>
<text class="v" x="500.06" y="340.18">34.4</text>
<text class="v" x="526.96" y="340.18">35.4</text>
<text class="v" x="553.85" y="340.18">34.2</text>
<text class="v" x="580.74" y="340.18">34.3</text>
<text class="v" x="607.63" y="340.18">33.8</text>
<text class="v" x="634.52" y="340.18">33.6</text>
<text class="v" x="661.41" y="340.18">34.2</text>
<text class="v" x="688.3" y="340.18">34.6</text>
<text class="v" x="715.19" y="340.18">34.9</text>
<text class="v" x="742.08" y="340.18">33.5</text>
<text class="v" x="768.97" y="340.18">41.0</text>
<text class="v" x="795.86" y="340.18">36.1</text>
<text class="v w" x="42.94" y="367.04">100.0</text>
<text class="v" x="69.83" y="367.04">35.8</text>
<text class="v" x="96.72" y="367.04">35.4</text>
<text class="v" x="123.6" y="367.04">36.9</text>
<text class="v" x="150.49" y="367.04">39.1</text>
<text class="v" x="177.38" y="367.04">33.3</text>
<text class="v" x="204.28" y="367.04">36.0</text>
<text class="v" x="231.16" y="367.04">33.1</text>
<text class="v" x="258.06" y="367.04">32.5</text>
<text class="v" x="284.94" y="367.04">32.0</text>
<text class="v" x="311.84" y="367.04">32.5</text>
<text class="v" x="338.73" y="367.04">33.1</text>
<text class="v" x="365.62" y="367.04">31.8</text>
<text class="v" x="392.51" y="367.04">33.0</text>
<text class="v" x="419.4" y="367.04">32.4</text>
<text class="v" x="446.29" y="367.04">33.9</text>
<text class="v" x="473.18" y="367.04">32.8</text>
<text class="v" x="500.06" y="367.04">33.7</text>
<text class="v" x="526.96" y="367.04">33.7</text>
<text class="v" x="553.85" y="367.04">33.9</text>
<text class="v" x="580.74" y="367.04">32.7</text>
<text class="v" x="607.63" y="367.04">33.3</text>
<text class="v" x="634.52" y="367.04">32.6</text>
<text class="v" x="661.41" y="367.04">32.3</text>
<text class="v" x="688.3" y="367.04">33.7</text>
<text class="v" x="715.19" y="367.04">33.0</text>
<text class="v" x="742.08" y="367.04">34.0</text>
<text class="v" x="768.97" y="367.04">36.3</text>
<text class="v" x="795.86" y="367.04">34.8</text>
<text class="v w" x="69.83" y="393.9">100.0</text>
<text class="v w" x="96.72" y="393.9">88.7</text>
<text class="v" x="123.6" y="393.9">52.7</text>
<text class="v" x="150.49" y="393.9">53.0</text>
<text class="v" x="177.38" y="393.9">39.1</text>
<text class="v" x="204.28" y="393.9">50.4</text>
<text class="v" x="231.16" y="393.9">42.8</text>
<text class="v" x="258.06" y="393.9">42.7</text>
<text class="v" x="284.94" y="393.9">43.3</text>
<text class="v" x="311.84" y="393.9">42.3</text>
<text class="v" x="338.73" y="393.9">42.6</text>
<text class="v" x="365.62" y="393.9">43.9</text>
<text class="v" x="392.51" y="393.9">42.8</text>
<text class="v" x="419.4" y="393.9">42.5</text>
<text class="v" x="446.29" y="393.9">44.3</text>
<text class="v" x="473.18" y="393.9">44.3</text>
<text class="v" x="500.06" y="393.9">43.2</text>
<text class="v" x="526.96" y="393.9">44.0</text>
<text class="v" x="553.85" y="393.9">43.2</text>
<text class="v" x="580.74" y="393.9">43.7</text>
<text class="v" x="607.63" y="393.9">44.1</text>
<text class="v" x="634.52" y="393.9">44.1</text>
<text class="v" x="661.41" y="393.9">44.0</text>
<text class="v" x="688.3" y="393.9">43.2</text>
<text class="v" x="715.19" y="393.9">43.2</text>
<text class="v" x="742.08" y="393.9">43.4</text>
<text class="v" x="768.97" y="393.9">44.3</text>
<text class="v" x="795.86" y="393.9">41.2</text>
<text class="v w" x="96.72" y="420.76">100.0</text>
<text class="v" x="123.6" y="420.76">52.3</text>
<text class="v" x="150.49" y="420.76">53.6</text>
<text class="v" x="177.38" y="420.76">37.5</text>
<text class="v" x="204.28" y="420.76">50.8</text>
<text class="v" x="231.16" y="420.76">42.3</text>
<text class="v" x="258.06" y="420.76">41.6</text>
<text class="v" x="284.94" y="420.76">43.0</text>
<text class="v" x="311.84" y="420.76">42.3</text>
<text class="v" x="338.73" y="420.76">42.4</text>
<text class="v" x="365.62" y="420.76">42.9</text>
<text class="v" x="392.51" y="420.76">42.4</text>
<text class="v" x="419.4" y="420.76">41.9</text>
<text class="v" x="446.29" y="420.76">43.8</text>
<text class="v" x="473.18" y="420.76">44.0</text>
<text class="v" x="500.06" y="420.76">43.2</text>
<text class="v" x="526.96" y="420.76">43.1</text>
<text class="v" x="553.85" y="420.76">42.3</text>
<text class="v" x="580.74" y="420.76">43.5</text>
<text class="v" x="607.63" y="420.76">43.2</text>
<text class="v" x="634.52" y="420.76">43.5</text>
<text class="v" x="661.41" y="420.76">43.9</text>
<text class="v" x="688.3" y="420.76">43.0</text>
<text class="v" x="715.19" y="420.76">42.5</text>
<text class="v" x="742.08" y="420.76">42.7</text>
<text class="v" x="768.97" y="420.76">44.0</text>
<text class="v" x="795.86" y="420.76">39.2</text>
<text class="v w" x="123.6" y="447.62">100.0</text>
<text class="v" x="150.49" y="447.62">55.1</text>
<text class="v" x="177.38" y="447.62">39.5</text>
<text class="v" x="204.28" y="447.62">51.3</text>
<text class="v" x="231.16" y="447.62">44.5</text>
<text class="v" x="258.06" y="447.62">44.3</text>
<text class="v" x="284.94" y="447.62">44.3</text>
<text class="v" x="311.84" y="447.62">44.1</text>
<text class="v" x="338.73" y="447.62">44.5</text>
<text class="v" x="365.62" y="447.62">44.3</text>
<text class="v" x="392.51" y="447.62">44.6</text>
<text class="v" x="419.4" y="447.62">43.1</text>
<text class="v" x="446.29" y="447.62">45.2</text>
<text class="v" x="473.18" y="447.62">44.8</text>
<text class="v" x="500.06" y="447.62">45.2</text>
<text class="v" x="526.96" y="447.62">44.4</text>
<text class="v" x="553.85" y="447.62">43.9</text>
<text class="v" x="580.74" y="447.62">44.6</text>
<text class="v" x="607.63" y="447.62">44.9</text>
<text class="v" x="634.52" y="447.62">44.2</text>
<text class="v" x="661.41" y="447.62">44.3</text>
<text class="v" x="688.3" y="447.62">44.3</text>
<text class="v" x="715.19" y="447.62">44.6</text>
<text class="v" x="742.08" y="447.62">44.5</text>
<text class="v" x="768.97" y="447.62">44.1</text>
<text class="v" x="795.86" y="447.62">41.5</text>
<text class="v w" x="150.49" y="474.48">100.0</text>
<text class="v" x="177.38" y="474.48">40.9</text>
<text class="v" x="204.28" y="474.48">52.4</text>
<text class="v" x="231.16" y="474.48">45.8</text>
<text class="v" x="258.06" y="474.48">45.5</text>
<text class="v" x="284.94" y="474.48">45.2</text>
<text class="v" x="311.84" y="474.48">44.5</text>
<text class="v" x="338.73" y="474.48">45.3</text>
<text class="v" x="365.62" y="474.48">46.8</text>
<text class="v" x="392.51" y="474.48">45.5</text>
<text class="v" x="419.4" y="474.48">45.6</text>
<text class="v" x="446.29" y="474.48">46.0</text>
<text class="v" x="473.18" y="474.48">46.3</text>
<text class="v" x="500.06" y="474.48">45.8</text>
<text class="v" x="526.96" y="474.48">47.1</text>
<text class="v" x="553.85" y="474.48">47.4</text>
<text class="v" x="580.74" y="474.48">47.1</text>
<text class="v" x="607.63" y="474.48">46.6</text>
<text class="v" x="634.52" y="474.48">46.6</text>
<text class="v" x="661.41" y="474.48">46.7</text>
<text class="v" x="688.3" y="474.48">45.3</text>
<text class="v" x="715.19" y="474.48">45.6</text>
<text class="v" x="742.08" y="474.48">46.5</text>
<text class="v" x="768.97" y="474.48">46.8</text>
<text class="v" x="795.86" y="474.48">42.9</text>
<text class="v w" x="177.38" y="501.34">100.0</text>
<text class="v" x="204.28" y="501.34">47.8</text>
<text class="v" x="231.16" y="501.34">44.7</text>
<text class="v" x="258.06" y="501.34">44.8</text>
<text class="v" x="284.94" y="501.34">44.0</text>
<text class="v" x="311.84" y="501.34">43.9</text>
<text class="v" x="338.73" y="501.34">44.6</text>
<text class="v" x="365.62" y="501.34">44.5</text>
<text class="v" x="392.51" y="501.34">46.9</text>
<text class="v" x="419.4" y="501.34">43.5</text>
<text class="v" x="446.29" y="501.34">45.7</text>
<text class="v" x="473.18" y="501.34">46.1</text>
<text class="v" x="500.06" y="501.34">46.0</text>
<text class="v" x="526.96" y="501.34">44.8</text>
<text class="v" x="553.85" y="501.34">45.4</text>
<text class="v" x="580.74" y="501.34">45.3</text>
<text class="v" x="607.63" y="501.34">45.1</text>
<text class="v" x="634.52" y="501.34">44.3</text>
<text class="v" x="661.41" y="501.34">45.9</text>
<text class="v" x="688.3" y="501.34">44.8</text>
<text class="v" x="715.19" y="501.34">44.4</text>
<text class="v" x="742.08" y="501.34">46.7</text>
<text class="v" x="768.97" y="501.34">42.8</text>
<text class="v" x="795.86" y="501.34">43.6</text>
<text class="v w" x="204.28" y="528.2">100.0</text>
<text class="v" x="231.16" y="528.2">56.0</text>
<text class="v" x="258.06" y="528.2">54.7</text>
<text class="v" x="284.94" y="528.2">55.9</text>
<text class="v" x="311.84" y="528.2">55.7</text>
<text class="v" x="338.73" y="528.2">55.2</text>
<text class="v" x="365.62" y="528.2">55.4</text>
<text class="v" x="392.51" y="528.2">55.4</text>
<text class="v" x="419.4" y="528.2">54.8</text>
<text class="v" x="446.29" y="528.2">57.8</text>
<text class="v" x="473.18" y="528.2">56.8</text>
<text class="v" x="500.06" y="528.2">55.5</text>
<text class="v" x="526.96" y="528.2">56.8</text>
<text class="v" x="553.85" y="528.2">55.3</text>
<text class="v" x="580.74" y="528.2">57.1</text>
<text class="v" x="607.63" y="528.2">56.6</text>
<text class="v" x="634.52" y="528.2">57.0</text>
<text class="v" x="661.41" y="528.2">56.9</text>
<text class="v" x="688.3" y="528.2">56.7</text>
<text class="v" x="715.19" y="528.2">56.6</text>
<text class="v" x="742.08" y="528.2">57.2</text>
<text class="v" x="768.97" y="528.2">54.5</text>
<text class="v" x="795.86" y="528.2">53.3</text>
<text class="v w" x="231.16" y="555.06">100.0</text>
<text class="v w" x="258.06" y="555.06">95.2</text>
<text class="v w" x="284.94" y="555.06">76.8</text>
<text class="v w" x="311.84" y="555.06">75.4</text>
<text class="v w" x="338.73" y="555.06">76.7</text>
<text class="v w" x="365.62" y="555.06">77.3</text>
<text class="v w" x="392.51" y="555.06">77.5</text>
<text class="v w" x="419.4" y="555.06">77.8</text>
<text class="v w" x="446.29" y="555.06">76.8</text>
<text class="v w" x="473.18" y="555.06">77.7</text>
<text class="v w" x="500.06" y="555.06">79.8</text>
<text class="v w" x="526.96" y="555.06">77.5</text>
<text class="v w" x="553.85" y="555.06">79.2</text>
<text class="v w" x="580.74" y="555.06">79.1</text>
<text class="v w" x="607.63" y="555.06">80.1</text>
<text class="v w" x="634.52" y="555.06">78.9</text>
<text class="v w" x="661.41" y="555.06">78.8</text>
<text class="v w" x="688.3" y="555.06">79.8</text>
<text class="v w" x="715.19" y="555.06">78.0</text>
<text class="v w" x="742.08" y="555.06">79.4</text>
<text class="v" x="768.97" y="555.06">48.6</text>
<text class="v" x="795.86" y="555.06">44.9</text>
<text class="v w" x="258.06" y="581.92">100.0</text>
<text class="v w" x="284.94" y="581.92">75.7</text>
<text class="v w" x="311.84" y="581.92">74.7</text>
<text class="v w" x="338.73" y="581.92">75.8</text>
<text class="v w" x="365.62" y="581.92">76.1</text>
<text class="v w" x="392.51" y="581.92">76.2</text>
<text class="v w" x="419.4" y="581.92">76.6</text>
<text class="v w" x="446.29" y="581.92">76.5</text>
<text class="v w" x="473.18" y="581.92">76.5</text>
<text class="v w" x="500.06" y="581.92">78.0</text>
<text class="v w" x="526.96" y="581.92">76.2</text>
<text class="v w" x="553.85" y="581.92">77.4</text>
<text class="v w" x="580.74" y="581.92">77.8</text>
<text class="v w" x="607.63" y="581.92">78.5</text>
<text class="v w" x="634.52" y="581.92">76.6</text>
<text class="v w" x="661.41" y="581.92">78.1</text>
<text class="v w" x="688.3" y="581.92">79.0</text>
<text class="v w" x="715.19" y="581.92">77.8</text>
<text class="v w" x="742.08" y="581.92">78.7</text>
<text class="v" x="768.97" y="581.92">47.9</text>
<text class="v" x="795.86" y="581.92">45.6</text>
<text class="v w" x="284.94" y="608.78">100.0</text>
<text class="v w" x="311.84" y="608.78">92.2</text>
<text class="v w" x="338.73" y="608.78">78.5</text>
<text class="v w" x="365.62" y="608.78">78.2</text>
<text class="v w" x="392.51" y="608.78">77.8</text>
<text class="v w" x="419.4" y="608.78">78.5</text>
<text class="v w" x="446.29" y="608.78">77.5</text>
<text class="v w" x="473.18" y="608.78">77.5</text>
<text class="v w" x="500.06" y="608.78">76.7</text>
<text class="v w" x="526.96" y="608.78">77.0</text>
<text class="v w" x="553.85" y="608.78">78.3</text>
<text class="v w" x="580.74" y="608.78">80.1</text>
<text class="v w" x="607.63" y="608.78">80.6</text>
<text class="v w" x="634.52" y="608.78">79.6</text>
<text class="v w" x="661.41" y="608.78">77.3</text>
<text class="v w" x="688.3" y="608.78">78.8</text>
<text class="v w" x="715.19" y="608.78">79.2</text>
<text class="v w" x="742.08" y="608.78">78.5</text>
<text class="v" x="768.97" y="608.78">46.7</text>
<text class="v" x="795.86" y="608.78">44.8</text>
<text class="v w" x="311.84" y="635.64">100.0</text>
<text class="v w" x="338.73" y="635.64">79.2</text>
<text class="v w" x="365.62" y="635.64">77.8</text>
<text class="v w" x="392.51" y="635.64">78.9</text>
<text class="v w" x="419.4" y="635.64">79.2</text>
<text class="v w" x="446.29" y="635.64">76.8</text>
<text class="v w" x="473.18" y="635.64">77.7</text>
<text class="v w" x="500.06" y="635.64">76.6</text>
<text class="v w" x="526.96" y="635.64">76.3</text>
<text class="v w" x="553.85" y="635.64">77.8</text>
<text class="v w" x="580.74" y="635.64">78.8</text>
<text class="v w" x="607.63" y="635.64">80.2</text>
<text class="v w" x="634.52" y="635.64">78.6</text>
<text class="v w" x="661.41" y="635.64">76.7</text>
<text class="v w" x="688.3" y="635.64">76.4</text>
<text class="v w" x="715.19" y="635.64">79.0</text>
<text class="v w" x="742.08" y="635.64">78.1</text>
<text class="v" x="768.97" y="635.64">46.8</text>
<text class="v" x="795.86" y="635.64">44.8</text>
<text class="v w" x="338.73" y="662.5">100.0</text>
<text class="v w" x="365.62" y="662.5">81.9</text>
<text class="v w" x="392.51" y="662.5">79.2</text>
<text class="v w" x="419.4" y="662.5">79.2</text>
<text class="v w" x="446.29" y="662.5">77.4</text>
<text class="v w" x="473.18" y="662.5">79.7</text>
<text class="v w" x="500.06" y="662.5">78.6</text>
<text class="v w" x="526.96" y="662.5">78.2</text>
<text class="v w" x="553.85" y="662.5">79.9</text>
<text class="v w" x="580.74" y="662.5">80.5</text>
<text class="v w" x="607.63" y="662.5">81.9</text>
<text class="v w" x="634.52" y="662.5">81.1</text>
<text class="v w" x="661.41" y="662.5">78.0</text>
<text class="v w" x="688.3" y="662.5">78.1</text>
<text class="v w" x="715.19" y="662.5">78.8</text>
<text class="v w" x="742.08" y="662.5">78.8</text>
<text class="v" x="768.97" y="662.5">46.0</text>
<text class="v" x="795.86" y="662.5">45.4</text>
<text class="v w" x="365.62" y="689.36">100.0</text>
<text class="v w" x="392.51" y="689.36">84.9</text>
<text class="v w" x="419.4" y="689.36">80.3</text>
<text class="v w" x="446.29" y="689.36">78.3</text>
<text class="v w" x="473.18" y="689.36">79.7</text>
<text class="v w" x="500.06" y="689.36">78.3</text>
<text class="v w" x="526.96" y="689.36">79.2</text>
<text class="v w" x="553.85" y="689.36">80.7</text>
<text class="v w" x="580.74" y="689.36">80.8</text>
<text class="v w" x="607.63" y="689.36">82.1</text>
<text class="v w" x="634.52" y="689.36">81.7</text>
<text class="v w" x="661.41" y="689.36">79.0</text>
<text class="v w" x="688.3" y="689.36">79.3</text>
<text class="v w" x="715.19" y="689.36">79.1</text>
<text class="v w" x="742.08" y="689.36">79.9</text>
<text class="v" x="768.97" y="689.36">47.8</text>
<text class="v" x="795.86" y="689.36">45.2</text>
<text class="v w" x="392.51" y="716.22">100.0</text>
<text class="v w" x="419.4" y="716.22">77.9</text>
<text class="v w" x="446.29" y="716.22">77.1</text>
<text class="v w" x="473.18" y="716.22">79.3</text>
<text class="v w" x="500.06" y="716.22">77.9</text>
<text class="v w" x="526.96" y="716.22">77.4</text>
<text class="v w" x="553.85" y="716.22">80.2</text>
<text class="v w" x="580.74" y="716.22">79.9</text>
<text class="v w" x="607.63" y="716.22">80.7</text>
<text class="v w" x="634.52" y="716.22">79.9</text>
<text class="v w" x="661.41" y="716.22">78.1</text>
<text class="v w" x="688.3" y="716.22">78.5</text>
<text class="v w" x="715.19" y="716.22">78.0</text>
<text class="v w" x="742.08" y="716.22">79.4</text>
<text class="v" x="768.97" y="716.22">49.5</text>
<text class="v" x="795.86" y="716.22">46.1</text>
<text class="v w" x="419.4" y="743.08">100.0</text>
<text class="v w" x="446.29" y="743.08">80.5</text>
<text class="v w" x="473.18" y="743.08">80.0</text>
<text class="v w" x="500.06" y="743.08">79.7</text>
<text class="v w" x="526.96" y="743.08">79.1</text>
<text class="v w" x="553.85" y="743.08">79.9</text>
<text class="v w" x="580.74" y="743.08">81.5</text>
<text class="v w" x="607.63" y="743.08">83.9</text>
<text class="v w" x="634.52" y="743.08">82.1</text>
<text class="v w" x="661.41" y="743.08">78.0</text>
<text class="v w" x="688.3" y="743.08">78.4</text>
<text class="v w" x="715.19" y="743.08">81.6</text>
<text class="v w" x="742.08" y="743.08">80.5</text>
<text class="v" x="768.97" y="743.08">47.3</text>
<text class="v" x="795.86" y="743.08">45.0</text>
<text class="v w" x="446.29" y="769.94">100.0</text>
<text class="v w" x="473.18" y="769.94">83.9</text>
<text class="v w" x="500.06" y="769.94">78.2</text>
<text class="v w" x="526.96" y="769.94">78.3</text>
<text class="v w" x="553.85" y="769.94">78.8</text>
<text class="v w" x="580.74" y="769.94">80.6</text>
<text class="v w" x="607.63" y="769.94">80.3</text>
<text class="v w" x="634.52" y="769.94">80.2</text>
<text class="v w" x="661.41" y="769.94">80.2</text>
<text class="v w" x="688.3" y="769.94">80.2</text>
<text class="v w" x="715.19" y="769.94">80.7</text>
<text class="v w" x="742.08" y="769.94">81.3</text>
<text class="v" x="768.97" y="769.94">48.5</text>
<text class="v" x="795.86" y="769.94">45.8</text>
<text class="v w" x="473.18" y="796.8">100.0</text>
<text class="v w" x="500.06" y="796.8">80.3</text>
<text class="v w" x="526.96" y="796.8">80.5</text>
<text class="v w" x="553.85" y="796.8">80.4</text>
<text class="v w" x="580.74" y="796.8">79.5</text>
<text class="v w" x="607.63" y="796.8">80.7</text>
<text class="v w" x="634.52" y="796.8">80.3</text>
<text class="v w" x="661.41" y="796.8">77.1</text>
<text class="v w" x="688.3" y="796.8">77.6</text>
<text class="v w" x="715.19" y="796.8">78.4</text>
<text class="v w" x="742.08" y="796.8">81.0</text>
<text class="v" x="768.97" y="796.8">47.5</text>
<text class="v" x="795.86" y="796.8">45.9</text>
<text class="v w" x="500.06" y="823.66">100.0</text>
<text class="v w" x="526.96" y="823.66">81.8</text>
<text class="v w" x="553.85" y="823.66">81.4</text>
<text class="v w" x="580.74" y="823.66">80.9</text>
<text class="v w" x="607.63" y="823.66">81.3</text>
<text class="v w" x="634.52" y="823.66">80.4</text>
<text class="v w" x="661.41" y="823.66">78.2</text>
<text class="v w" x="688.3" y="823.66">80.1</text>
<text class="v w" x="715.19" y="823.66">78.5</text>
<text class="v w" x="742.08" y="823.66">81.2</text>
<text class="v" x="768.97" y="823.66">47.0</text>
<text class="v" x="795.86" y="823.66">45.6</text>
<text class="v w" x="526.96" y="850.52">100.0</text>
<text class="v w" x="553.85" y="850.52">80.2</text>
<text class="v w" x="580.74" y="850.52">81.5</text>
<text class="v w" x="607.63" y="850.52">82.1</text>
<text class="v w" x="634.52" y="850.52">81.0</text>
<text class="v w" x="661.41" y="850.52">78.9</text>
<text class="v w" x="688.3" y="850.52">80.0</text>
<text class="v w" x="715.19" y="850.52">78.5</text>
<text class="v w" x="742.08" y="850.52">80.2</text>
<text class="v" x="768.97" y="850.52">46.0</text>
<text class="v" x="795.86" y="850.52">46.3</text>
<text class="v w" x="553.85" y="877.38">100.0</text>
<text class="v w" x="580.74" y="877.38">82.4</text>
<text class="v w" x="607.63" y="877.38">83.1</text>
<text class="v w" x="634.52" y="877.38">81.6</text>
<text class="v w" x="661.41" y="877.38">78.8</text>
<text class="v w" x="688.3" y="877.38">80.4</text>
<text class="v w" x="715.19" y="877.38">78.7</text>
<text class="v w" x="742.08" y="877.38">83.0</text>
<text class="v" x="768.97" y="877.38">46.4</text>
<text class="v" x="795.86" y="877.38">46.4</text>
<text class="v w" x="580.74" y="904.24">100.0</text>
<text class="v w" x="607.63" y="904.24">84.0</text>
<text class="v w" x="634.52" y="904.24">82.9</text>
<text class="v w" x="661.41" y="904.24">80.6</text>
<text class="v w" x="688.3" y="904.24">82.4</text>
<text class="v w" x="715.19" y="904.24">81.1</text>
<text class="v w" x="742.08" y="904.24">82.2</text>
<text class="v" x="768.97" y="904.24">47.5</text>
<text class="v" x="795.86" y="904.24">46.7</text>
<text class="v w" x="607.63" y="931.1">100.0</text>
<text class="v w" x="634.52" y="931.1">90.6</text>
<text class="v w" x="661.41" y="931.1">80.5</text>
<text class="v w" x="688.3" y="931.1">80.7</text>
<text class="v w" x="715.19" y="931.1">81.8</text>
<text class="v w" x="742.08" y="931.1">81.9</text>
<text class="v" x="768.97" y="931.1">48.1</text>
<text class="v" x="795.86" y="931.1">45.6</text>
<text class="v w" x="634.52" y="957.96">100.0</text>
<text class="v w" x="661.41" y="957.96">80.1</text>
<text class="v w" x="688.3" y="957.96">80.4</text>
<text class="v w" x="715.19" y="957.96">81.1</text>
<text class="v w" x="742.08" y="957.96">80.8</text>
<text class="v" x="768.97" y="957.96">47.0</text>
<text class="v" x="795.86" y="957.96">46.8</text>
<text class="v w" x="661.41" y="984.82">100.0</text>
<text class="v w" x="688.3" y="984.82">80.0</text>
<text class="v w" x="715.19" y="984.82">80.6</text>
<text class="v w" x="742.08" y="984.82">80.5</text>
<text class="v" x="768.97" y="984.82">48.6</text>
<text class="v" x="795.86" y="984.82">46.6</text>
<text class="v w" x="688.3" y="1011.68">100.0</text>
<text class="v w" x="715.19" y="1011.68">81.1</text>
<text class="v w" x="742.08" y="1011.68">82.7</text>
<text class="v" x="768.97" y="1011.68">47.8</text>
<text class="v" x="795.86" y="1011.68">46.3</text>
<text class="v w" x="715.19" y="1038.54">100.0</text>
<text class="v w" x="742.08" y="1038.54">88.7</text>
<text class="v" x="768.97" y="1038.54">48.4</text>
<text class="v" x="795.86" y="1038.54">45.9</text>
<text class="v w" x="742.08" y="1065.4">100.0</text>
<text class="v" x="768.97" y="1065.4">48.2</text>
<text class="v" x="795.86" y="1065.4">46.5</text>
<text class="v w" x="768.97" y="1092.26">100.0</text>
<text class="v" x="795.86" y="1092.26">51.5</text>
<text class="v w" x="795.86" y="1119.12">100.0</text>
<text class="l" x="812.4" y="340.43" textLength="250.7" lengthAdjust="spacingAndGlyphs">Morganella phage MmP1 - Minipunavirus</text>
<text class="l" x="812.4" y="367.29" textLength="254.3" lengthAdjust="spacingAndGlyphs">Pectobacterium phage PP47 - Pektosvirus</text>
<text class="l" x="812.4" y="394.15" textLength="290.9" lengthAdjust="spacingAndGlyphs">Pectobacterium phage phiPccP-1 - Unyawovirus</text>
<text class="l" x="812.6" y="421.01" textLength="303.8" lengthAdjust="spacingAndGlyphs">Pectobacterium phage P15_PC2B6 - Unyawovirus</text>
<text class="l" x="812.6" y="447.87" textLength="250.5" lengthAdjust="spacingAndGlyphs">Pectobacterium phage Jarilo - Jarilovirus</text>
<text class="l" x="812.6" y="474.73" textLength="249.1" lengthAdjust="spacingAndGlyphs">Pectobacterium phage Q19 - Pektosvirus</text>
<text class="l" x="812.6" y="501.59" textLength="242.2" lengthAdjust="spacingAndGlyphs">Erwinia phage vB_EamP-L1 - Elunavirus</text>
<text class="l" x="812.9" y="528.45" textLength="284.9" lengthAdjust="spacingAndGlyphs">Yersinia phage vB_YenP_AP10 - Apdecimavirus</text>
<text class="l" x="812.6" y="555.31" textLength="240.8" lengthAdjust="spacingAndGlyphs">Klebsiella phage IME304 - Przondovirus</text>
<text class="l" x="812.6" y="582.17" textLength="302.7" lengthAdjust="spacingAndGlyphs">Klebsiella phage vB_KpnP_IME205 - Przondovirus</text>
<text class="l" x="812.6" y="609.03" textLength="290.7" lengthAdjust="spacingAndGlyphs">Klebsiella phage vB_KpnP_BIS33 - Przondovirus</text>
<text class="l" x="811.5" y="635.89" textLength="282.1" lengthAdjust="spacingAndGlyphs">Klebsiella phage vB_KpnP_IL33 - Przondovirus</text>
<text class="l" x="812.6" y="662.75" textLength="225.6" lengthAdjust="spacingAndGlyphs">Klebsiella phage KMI2 - Przondovirus</text>
<text class="l b" x="813.5" y="689.61" textLength="217.7" lengthAdjust="spacingAndGlyphs">Klebsiella phage K5 - Przondovirus</text>
<text class="l" x="813.5" y="716.47" textLength="226.1" lengthAdjust="spacingAndGlyphs">Klebsiella phage KP32 - Przondovirus</text>
<text class="l" x="813.5" y="743.33" textLength="231.6" lengthAdjust="spacingAndGlyphs">Klebsiella phage KN4-1 - Przondovirus</text>
<text class="l" x="813.2" y="770.19" textLength="231.3" lengthAdjust="spacingAndGlyphs">Klebsiella phage KN1-1 - Przondovirus</text>
<text class="l" x="813.2" y="797.05" textLength="302.1" lengthAdjust="spacingAndGlyphs">Klebsiella phage vB_KpnP_IME321 - Przondovirus</text>
<text class="l" x="812.4" y="823.91" textLength="233.3" lengthAdjust="spacingAndGlyphs">Klebsiella phage Henu1 - Przondovirus</text>
<text class="l" x="813.2" y="850.77" textLength="231.3" lengthAdjust="spacingAndGlyphs">Klebsiella phage KN3-1 - Przondovirus</text>
<text class="l" x="813.2" y="877.63" textLength="217.5" lengthAdjust="spacingAndGlyphs">Klebsiella phage K11 - Przondovirus</text>
<text class="l" x="813.2" y="904.49" textLength="245.8" lengthAdjust="spacingAndGlyphs">Klebsiella phage KpV763 – Przondovirus</text>
<text class="l" x="813.2" y="931.35" textLength="263.8" lengthAdjust="spacingAndGlyphs">Klebsiella phage 2044-307w - Przondovirus</text>
<text class="l" x="813.2" y="958.21" textLength="227.2" lengthAdjust="spacingAndGlyphs">Klebsiella phage Pharr - Przondovirus</text>
<text class="l" x="813" y="985.07" textLength="227.4" lengthAdjust="spacingAndGlyphs">Escherichia phage K30 - Przondovirus</text>
<text class="l" x="813.5" y="1011.93" textLength="221.9" lengthAdjust="spacingAndGlyphs">Klebsiella phage K5-2 - Przondovirus</text>
<text class="l" x="813.5" y="1038.79" textLength="234.9" lengthAdjust="spacingAndGlyphs">Klebsiella phage kpssk3 - Przondovirus</text>
<text class="l" x="814.9" y="1065.65" textLength="239.9" lengthAdjust="spacingAndGlyphs">Klebsiella phage vB_Kp1 - Przondovirus</text>
<text class="l" x="814.9" y="1092.51" textLength="231" lengthAdjust="spacingAndGlyphs">Escherichia phage T7 - Teseptimavirus</text>
<text class="l" x="813.5" y="1119.37" textLength="204.4" lengthAdjust="spacingAndGlyphs">Kluyvera phage Kvp1 - Berlinvirus</text>
<text class="l" transform="translate(21.25,320.1) rotate(-90)" textLength="250.7" lengthAdjust="spacingAndGlyphs">Morganella phage MmP1 - Minipunavirus</text>
<text class="l" transform="translate(48.14,320.1) rotate(-90)" textLength="254.3" lengthAdjust="spacingAndGlyphs">Pectobacterium phage PP47 - Pektosvirus</text>
<text class="l" transform="translate(75.03,320.1) rotate(-90)" textLength="290.9" lengthAdjust="spacingAndGlyphs">Pectobacterium phage phiPccP-1 - Unyawovirus</text>
<text class="l" transform="translate(101.92,319.9) rotate(-90)" textLength="303.8" lengthAdjust="spacingAndGlyphs">Pectobacterium phage P15_PC2B6 - Unyawovirus</text>
<text class="l" transform="translate(128.8,319.9) rotate(-90)" textLength="250.5" lengthAdjust="spacingAndGlyphs">Pectobacterium phage Jarilo - Jarilovirus</text>
<text class="l" transform="translate(155.69,319.9) rotate(-90)" textLength="249.1" lengthAdjust="spacingAndGlyphs">Pectobacterium phage Q19 - Pektosvirus</text>
<text class="l" transform="translate(182.58,319.9) rotate(-90)" textLength="242.2" lengthAdjust="spacingAndGlyphs">Erwinia phage vB_EamP-L1 - Elunavirus</text>
<text class="l" transform="translate(209.47,319.6) rotate(-90)" textLength="284.9" lengthAdjust="spacingAndGlyphs">Yersinia phage vB_YenP_AP10 - Apdecimavirus</text>
<text class="l" transform="translate(236.36,319.9) rotate(-90)" textLength="240.8" lengthAdjust="spacingAndGlyphs">Klebsiella phage IME304 - Przondovirus</text>
<text class="l" transform="translate(263.25,319.9) rotate(-90)" textLength="302.7" lengthAdjust="spacingAndGlyphs">Klebsiella phage vB_KpnP_IME205 - Przondovirus</text>
<text class="l" transform="translate(290.14,319.9) rotate(-90)" textLength="290.7" lengthAdjust="spacingAndGlyphs">Klebsiella phage vB_KpnP_BIS33 - Przondovirus</text>
<text class="l" transform="translate(317.04,321) rotate(-90)" textLength="282.1" lengthAdjust="spacingAndGlyphs">Klebsiella phage vB_KpnP_IL33 - Przondovirus</text>
<text class="l" transform="translate(343.93,319.9) rotate(-90)" textLength="225.6" lengthAdjust="spacingAndGlyphs">Klebsiella phage KMI2 - Przondovirus</text>
<text class="l b" transform="translate(370.81,319) rotate(-90)" textLength="217.7" lengthAdjust="spacingAndGlyphs">Klebsiella phage K5 - Przondovirus</text>
<text class="l" transform="translate(397.71,319) rotate(-90)" textLength="226.1" lengthAdjust="spacingAndGlyphs">Klebsiella phage KP32 - Przondovirus</text>
<text class="l" transform="translate(424.6,319) rotate(-90)" textLength="231.6" lengthAdjust="spacingAndGlyphs">Klebsiella phage KN4-1 - Przondovirus</text>
<text class="l" transform="translate(451.49,319.3) rotate(-90)" textLength="231.3" lengthAdjust="spacingAndGlyphs">Klebsiella phage KN1-1 - Przondovirus</text>
<text class="l" transform="translate(478.38,319.3) rotate(-90)" textLength="302.1" lengthAdjust="spacingAndGlyphs">Klebsiella phage vB_KpnP_IME321 - Przondovirus</text>
<text class="l" transform="translate(505.26,320.1) rotate(-90)" textLength="233.3" lengthAdjust="spacingAndGlyphs">Klebsiella phage Henu1 - Przondovirus</text>
<text class="l" transform="translate(532.16,319.3) rotate(-90)" textLength="231.3" lengthAdjust="spacingAndGlyphs">Klebsiella phage KN3-1 - Przondovirus</text>
<text class="l" transform="translate(559.05,319.3) rotate(-90)" textLength="217.5" lengthAdjust="spacingAndGlyphs">Klebsiella phage K11 - Przondovirus</text>
<text class="l" transform="translate(585.94,319.3) rotate(-90)" textLength="245.8" lengthAdjust="spacingAndGlyphs">Klebsiella phage KpV763 – Przondovirus</text>
<text class="l" transform="translate(612.83,319.3) rotate(-90)" textLength="263.8" lengthAdjust="spacingAndGlyphs">Klebsiella phage 2044-307w - Przondovirus</text>
<text class="l" transform="translate(639.72,319.3) rotate(-90)" textLength="227.2" lengthAdjust="spacingAndGlyphs">Klebsiella phage Pharr - Przondovirus</text>
<text class="l" transform="translate(666.61,319.5) rotate(-90)" textLength="227.4" lengthAdjust="spacingAndGlyphs">Escherichia phage K30 - Przondovirus</text>
<text class="l" transform="translate(693.5,319) rotate(-90)" textLength="221.9" lengthAdjust="spacingAndGlyphs">Klebsiella phage K5-2 - Przondovirus</text>
<text class="l" transform="translate(720.39,319) rotate(-90)" textLength="234.9" lengthAdjust="spacingAndGlyphs">Klebsiella phage kpssk3 - Przondovirus</text>
<text class="l" transform="translate(747.28,317.6) rotate(-90)" textLength="239.9" lengthAdjust="spacingAndGlyphs">Klebsiella phage vB_Kp1 - Przondovirus</text>
<text class="l" transform="translate(774.17,317.6) rotate(-90)" textLength="231" lengthAdjust="spacingAndGlyphs">Escherichia phage T7 - Teseptimavirus</text>
<text class="l" transform="translate(801.06,319) rotate(-90)" textLength="204.4" lengthAdjust="spacingAndGlyphs">Kluyvera phage Kvp1 - Berlinvirus</text>
<defs><linearGradient id="ga"><stop offset="0" stop-color="#fda25a"/><stop offset="1" stop-color="#fff"/></linearGradient><linearGradient id="gl"><stop offset="0" stop-color="#000"/><stop offset="1" stop-color="#fff"/></linearGradient><linearGradient id="gs"><stop offset="0.000" stop-color="#ffffff"/><stop offset="0.280" stop-color="#e9f2fa"/><stop offset="0.350" stop-color="#deebf7"/><stop offset="0.440" stop-color="#cde2f3"/><stop offset="0.500" stop-color="#c4def0"/><stop offset="0.560" stop-color="#a9d3ea"/><stop offset="0.650" stop-color="#6dbce0"/><stop offset="0.750" stop-color="#15a0d3"/><stop offset="0.780" stop-color="#0898ce"/><stop offset="0.800" stop-color="#0492cb"/><stop offset="0.840" stop-color="#0587c5"/><stop offset="0.887" stop-color="#0a79be"/><stop offset="0.920" stop-color="#0f68b2"/><stop offset="0.952" stop-color="#0a55a3"/><stop offset="1.000" stop-color="#042f74"/></linearGradient></defs>
<text class="t" x="177.15" y="1165.7" textLength="135.7" lengthAdjust="spacingAndGlyphs">Aligned genome fraction</text>
<rect x="101.8" y="1171.0" width="147.8" height="14.6" fill="url(#ga)" stroke="#bdbdbd" stroke-width="0.7"/>
<text class="k" x="101.8" y="1192.0">0</text>
<text class="k" x="138.75" y="1192.0">0.25</text>
<text class="k" x="175.7" y="1192.0">0.5</text>
<text class="k" x="212.65" y="1192.0">0.75</text>
<text class="k" x="249.6" y="1192.0">1</text>
<text class="t" x="400.5" y="1165.7" textLength="113" lengthAdjust="spacingAndGlyphs">Genome length ratio</text>
<rect x="325" y="1171.0" width="147.4" height="14.6" fill="url(#gl)" stroke="#bdbdbd" stroke-width="0.7"/>
<text class="k" x="325" y="1192.0">0</text>
<text class="k" x="361.85" y="1192.0">0.25</text>
<text class="k" x="398.7" y="1192.0">0.5</text>
<text class="k" x="435.55" y="1192.0">0.75</text>
<text class="k" x="472.4" y="1192.0">1</text>
<text class="t" x="623.35" y="1165.7" textLength="125.9" lengthAdjust="spacingAndGlyphs">Intergenomic similarity</text>
<rect x="549.5" y="1171.0" width="146.7" height="14.6" fill="url(#gs)" stroke="#bdbdbd" stroke-width="0.7"/>
<text class="k" x="549.5" y="1192.0">0</text>
<text class="k" x="578.84" y="1192.0">20</text>
<text class="k" x="608.18" y="1192.0">40</text>
<text class="k" x="622.85" y="1192.0">50</text>
<text class="k" x="637.52" y="1192.0">60</text>
<text class="k" x="652.19" y="1192.0">70</text>
<text class="k" x="666.86" y="1192.0">80</text>
<text class="k" x="681.53" y="1192.0">90</text>
<text class="k" x="696.2" y="1192.0">100</text>
</g>
</svg></body></html>
